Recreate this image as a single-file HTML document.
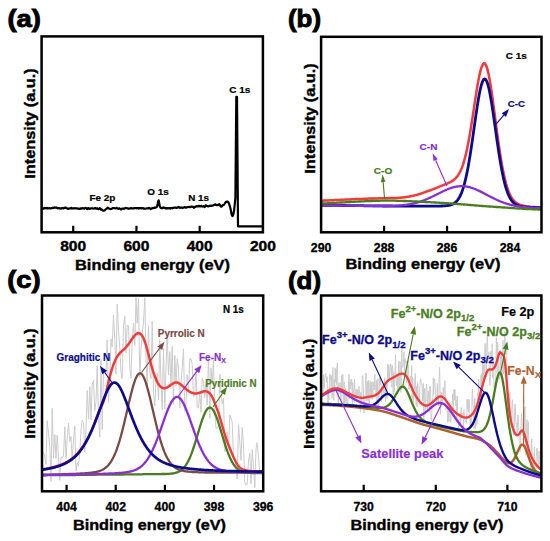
<!DOCTYPE html><html><head><meta charset="utf-8"><style>html,body{margin:0;padding:0;background:#fff;width:550px;height:541px;overflow:hidden}svg{display:block}text{font-family:"Liberation Sans",sans-serif;font-weight:bold}</style></head><body>
<svg width="550" height="541" viewBox="0 0 550 541">
<text x="7.5" y="26.5" font-size="24.5" fill="#000" text-anchor="start" textLength="33.5" lengthAdjust="spacingAndGlyphs" stroke="#000" stroke-width="0.9">(a)</text>
<text x="288" y="26.5" font-size="24.5" fill="#000" text-anchor="start" textLength="33" lengthAdjust="spacingAndGlyphs" stroke="#000" stroke-width="0.9">(b)</text>
<text x="7.2" y="288.4" font-size="24.5" fill="#000" text-anchor="start" textLength="33.5" lengthAdjust="spacingAndGlyphs" stroke="#000" stroke-width="0.9">(c)</text>
<text x="288" y="288.7" font-size="24.5" fill="#000" text-anchor="start" textLength="33" lengthAdjust="spacingAndGlyphs" stroke="#000" stroke-width="0.9">(d)</text>
<text x="34.7" y="123.5" font-size="15.2" fill="#000" text-anchor="middle" textLength="110.5" lengthAdjust="spacingAndGlyphs" transform="rotate(-90 34.7 123.5)" stroke="#000" stroke-width="0.4">Intensity (a.u.)</text>
<text x="315.2" y="118.5" font-size="15.2" fill="#000" text-anchor="middle" textLength="110.5" lengthAdjust="spacingAndGlyphs" transform="rotate(-90 315.2 118.5)" stroke="#000" stroke-width="0.4">Intensity (a.u.)</text>
<text x="34.8" y="383.5" font-size="15.2" fill="#000" text-anchor="middle" textLength="110.5" lengthAdjust="spacingAndGlyphs" transform="rotate(-90 34.8 383.5)" stroke="#000" stroke-width="0.4">Intensity (a.u.)</text>
<text x="314.0" y="393.7" font-size="15.2" fill="#000" text-anchor="middle" textLength="110.5" lengthAdjust="spacingAndGlyphs" transform="rotate(-90 314.0 393.7)" stroke="#000" stroke-width="0.4">Intensity (a.u.)</text>
<text x="152.5" y="269.8" font-size="15.1" fill="#000" text-anchor="middle" textLength="155" lengthAdjust="spacingAndGlyphs" stroke="#000" stroke-width="0.4">Binding energy (eV)</text>
<text x="423" y="269.2" font-size="15.1" fill="#000" text-anchor="middle" textLength="155" lengthAdjust="spacingAndGlyphs" stroke="#000" stroke-width="0.4">Binding energy (eV)</text>
<text x="149.5" y="529.6" font-size="15.1" fill="#000" text-anchor="middle" textLength="153" lengthAdjust="spacingAndGlyphs" stroke="#000" stroke-width="0.4">Binding energy (eV)</text>
<text x="427" y="529.9" font-size="15.1" fill="#000" text-anchor="middle" textLength="153" lengthAdjust="spacingAndGlyphs" stroke="#000" stroke-width="0.4">Binding energy (eV)</text>
<path d="M42.6,208.3 L43.1,208.7 L43.6,208.6 L44.1,208.1 L44.6,207.9 L45.1,208.0 L45.6,208.2 L46.1,208.3 L46.6,208.1 L47.1,207.9 L47.6,208.4 L48.1,208.4 L48.6,208.3 L49.1,208.2 L49.6,208.1 L50.1,208.4 L50.6,208.4 L51.1,208.2 L51.6,208.2 L52.1,208.2 L52.6,207.8 L53.1,207.7 L53.6,208.0 L54.1,207.7 L54.6,207.4 L55.1,207.6 L55.6,207.7 L56.1,207.6 L56.6,207.6 L57.1,208.1 L57.6,208.4 L58.1,208.2 L58.6,208.0 L59.1,208.3 L59.6,208.4 L60.1,208.3 L60.6,208.5 L61.1,208.6 L61.6,208.2 L62.1,208.0 L62.6,208.3 L63.1,208.5 L63.6,208.4 L64.1,207.9 L64.6,207.8 L65.1,207.7 L65.6,207.6 L66.1,208.1 L66.6,208.3 L67.1,208.3 L67.6,208.7 L68.1,208.8 L68.6,208.7 L69.1,208.6 L69.6,208.5 L70.1,208.1 L70.6,208.4 L71.1,208.3 L71.6,207.9 L72.1,208.2 L72.6,208.4 L73.1,208.5 L73.6,208.3 L74.1,208.3 L74.6,208.3 L75.1,208.2 L75.6,208.4 L76.1,208.4 L76.6,208.4 L77.1,208.4 L77.6,208.7 L78.1,208.7 L78.6,208.5 L79.1,208.7 L79.6,209.0 L80.1,208.9 L80.6,208.3 L81.1,208.5 L81.6,208.6 L82.1,208.3 L82.6,208.2 L83.1,208.5 L83.6,208.3 L84.1,208.6 L84.6,208.6 L85.1,208.0 L85.6,207.9 L86.1,208.0 L86.6,208.5 L87.1,209.1 L87.6,209.0 L88.1,208.1 L88.6,208.2 L89.1,208.8 L89.6,209.0 L90.1,208.7 L90.6,208.3 L91.1,208.4 L91.6,208.4 L92.1,208.3 L92.6,208.3 L93.1,208.5 L93.6,208.6 L94.1,208.4 L94.6,208.2 L95.1,208.0 L95.6,208.3 L96.1,208.7 L96.6,208.4 L97.1,208.2 L97.6,208.8 L98.1,209.1 L98.6,209.2 L99.1,208.7 L99.6,208.2 L100.1,208.3 L100.6,209.2 L101.1,209.7 L101.6,209.4 L102.1,209.7 L102.6,210.4 L103.1,210.7 L103.6,210.7 L104.1,210.6 L104.6,210.4 L105.1,210.0 L105.6,209.4 L106.1,209.0 L106.6,208.6 L107.1,208.3 L107.6,207.7 L108.1,207.9 L108.6,208.4 L109.1,208.5 L109.6,208.7 L110.1,208.9 L110.6,209.1 L111.1,209.0 L111.6,208.9 L112.1,208.5 L112.6,208.1 L113.1,208.1 L113.6,208.0 L114.1,208.0 L114.6,208.1 L115.1,208.4 L115.6,208.4 L116.1,208.1 L116.6,207.8 L117.1,208.2 L117.6,208.6 L118.1,208.9 L118.6,208.7 L119.1,208.3 L119.6,208.4 L120.1,209.0 L120.6,209.2 L121.1,209.4 L121.6,209.2 L122.1,208.5 L122.6,208.5 L123.1,208.7 L123.6,208.7 L124.1,208.7 L124.6,208.5 L125.1,208.3 L125.6,207.9 L126.1,208.0 L126.6,208.1 L127.1,208.3 L127.6,208.4 L128.1,208.6 L128.6,208.8 L129.1,208.6 L129.6,208.5 L130.1,208.4 L130.6,208.2 L131.1,208.2 L131.6,208.3 L132.1,208.4 L132.6,208.5 L133.1,208.4 L133.6,208.2 L134.1,208.3 L134.6,208.1 L135.1,208.0 L135.6,208.1 L136.1,208.2 L136.6,208.3 L137.1,208.1 L137.6,207.9 L138.1,208.1 L138.6,208.6 L139.1,208.4 L139.6,208.0 L140.1,208.0 L140.6,208.1 L141.1,208.5 L141.6,208.2 L142.1,208.3 L142.6,208.3 L143.1,208.0 L143.6,208.4 L144.1,208.7 L144.6,208.6 L145.1,208.6 L145.6,208.7 L146.1,208.5 L146.6,208.4 L147.1,208.4 L147.6,208.4 L148.1,208.2 L148.6,208.3 L149.1,208.1 L149.6,208.0 L150.1,208.5 L150.6,209.0 L151.1,208.7 L151.6,208.4 L152.1,208.3 L152.6,208.2 L153.1,208.1 L153.6,207.9 L154.1,207.5 L154.6,207.8 L155.1,207.8 L155.6,207.6 L156.1,207.4 L156.6,207.1 L157.1,206.5 L157.6,204.6 L158.1,201.6 L158.6,200.3 L159.1,202.5 L159.6,205.3 L160.1,206.8 L160.6,207.8 L161.1,208.1 L161.6,208.0 L162.1,208.1 L162.6,208.1 L163.1,207.6 L163.6,207.4 L164.1,207.7 L164.6,207.8 L165.1,208.0 L165.6,208.4 L166.1,208.5 L166.6,208.1 L167.1,208.2 L167.6,208.4 L168.1,208.4 L168.6,208.2 L169.1,208.0 L169.6,208.3 L170.1,208.6 L170.6,208.3 L171.1,207.9 L171.6,208.1 L172.1,208.3 L172.6,208.0 L173.1,207.9 L173.6,208.0 L174.1,207.6 L174.6,207.7 L175.1,207.6 L175.6,207.5 L176.1,207.9 L176.6,207.8 L177.1,207.5 L177.6,207.6 L178.1,207.3 L178.6,206.9 L179.1,207.2 L179.6,207.7 L180.1,207.8 L180.6,207.7 L181.1,207.7 L181.6,207.7 L182.1,207.7 L182.6,207.8 L183.1,207.7 L183.6,207.6 L184.1,207.4 L184.6,207.1 L185.1,207.2 L185.6,207.7 L186.1,207.6 L186.6,207.3 L187.1,207.3 L187.6,207.1 L188.1,207.1 L188.6,207.0 L189.1,206.9 L189.6,206.9 L190.1,207.2 L190.6,206.9 L191.1,206.5 L191.6,206.7 L192.1,206.8 L192.6,206.8 L193.1,206.7 L193.6,207.4 L194.1,207.8 L194.6,207.0 L195.1,206.8 L195.6,206.8 L196.1,206.5 L196.6,206.1 L197.1,206.1 L197.6,206.5 L198.1,206.5 L198.6,206.4 L199.1,205.8 L199.6,206.0 L200.1,206.5 L200.6,206.0 L201.1,205.8 L201.6,206.2 L202.1,206.4 L202.6,206.6 L203.1,206.3 L203.6,206.1 L204.1,206.5 L204.6,207.1 L205.1,206.5 L205.6,205.4 L206.1,205.5 L206.6,205.7 L207.1,206.0 L207.6,206.1 L208.1,206.5 L208.6,206.4 L209.1,206.1 L209.6,205.8 L210.1,205.7 L210.6,205.8 L211.1,206.0 L211.6,205.8 L212.1,205.6 L212.6,205.7 L213.1,205.5 L213.6,205.1 L214.1,204.9 L214.6,204.7 L215.1,204.4 L215.6,204.3 L216.1,205.0 L216.6,205.2 L217.1,205.1 L217.6,205.2 L218.1,205.1 L218.6,204.7 L219.1,204.1 L219.6,204.6 L220.1,205.4 L220.6,206.2 L221.1,206.7 L221.6,206.6 L222.1,205.7 L222.6,205.2 L223.1,205.2 L223.6,205.0 L224.1,204.5 L224.6,203.9 L225.1,203.1 L225.6,202.3 L226.1,202.0 L226.6,201.7 L227.1,201.6 L227.6,201.7 L228.1,202.0 L228.6,202.7 L229.1,203.8 L229.6,205.4 L230.1,207.1 L230.6,209.1 L231.1,211.6 L231.6,214.3 L232.1,215.7 L232.6,216.1 L233.1,215.1 L233.6,212.9 L234.1,210.5 L235.4,198.0 L236.3,96.8 L237.0,96.8 L238.0,226.3 L240.0,226.3 L261.9,226.3" fill="none" stroke="#000" stroke-width="2.2" stroke-linejoin="round" stroke-linecap="round" />
<line x1="73.21" y1="232.3" x2="73.21" y2="225.8" stroke="#000" stroke-width="2.2"/>
<line x1="136.44" y1="232.3" x2="136.44" y2="225.8" stroke="#000" stroke-width="2.2"/>
<line x1="199.67" y1="232.3" x2="199.67" y2="225.8" stroke="#000" stroke-width="2.2"/>
<rect x="41.6" y="36.4" width="221.30" height="195.90" fill="none" stroke="#000" stroke-width="2.5"/>
<text x="73.21428571428571" y="251.2" font-size="15.2" fill="#000" text-anchor="middle" textLength="26" lengthAdjust="spacingAndGlyphs" stroke="#000" stroke-width="0.4">800</text>
<text x="136.44285714285712" y="251.2" font-size="15.2" fill="#000" text-anchor="middle" textLength="26" lengthAdjust="spacingAndGlyphs" stroke="#000" stroke-width="0.4">600</text>
<text x="199.67142857142855" y="251.2" font-size="15.2" fill="#000" text-anchor="middle" textLength="26" lengthAdjust="spacingAndGlyphs" stroke="#000" stroke-width="0.4">400</text>
<text x="262.9" y="251.2" font-size="15.2" fill="#000" text-anchor="middle" textLength="26" lengthAdjust="spacingAndGlyphs" stroke="#000" stroke-width="0.4">200</text>
<text x="229.3" y="93" font-size="9.6" fill="#000" text-anchor="start" textLength="21" lengthAdjust="spacingAndGlyphs" stroke="#000" stroke-width="0.2">C 1s</text>
<text x="89.4" y="201.2" font-size="9.6" fill="#000" text-anchor="start" textLength="26" lengthAdjust="spacingAndGlyphs" stroke="#000" stroke-width="0.2">Fe 2p</text>
<text x="147.2" y="195.2" font-size="9.6" fill="#000" text-anchor="start" textLength="21.5" lengthAdjust="spacingAndGlyphs" stroke="#000" stroke-width="0.2">O 1s</text>
<text x="188.2" y="200.5" font-size="9.6" fill="#000" text-anchor="start" textLength="20.8" lengthAdjust="spacingAndGlyphs" stroke="#000" stroke-width="0.2">N 1s</text>
<path d="M322.1,200.7 L322.6,200.7 L323.1,200.6 L323.6,200.6 L324.1,200.6 L324.6,200.6 L325.1,200.5 L325.6,200.5 L326.1,200.5 L326.6,200.5 L327.1,200.5 L327.6,200.4 L328.1,200.4 L328.6,200.4 L329.1,200.4 L329.6,200.3 L330.1,200.3 L330.6,200.3 L331.1,200.3 L331.6,200.2 L332.1,200.2 L332.6,200.2 L333.1,200.2 L333.6,200.2 L334.1,200.1 L334.6,200.1 L335.1,200.1 L335.6,200.1 L336.1,200.0 L336.6,200.0 L337.1,200.0 L337.6,200.0 L338.1,199.9 L338.6,199.9 L339.1,199.9 L339.6,199.9 L340.1,199.9 L340.6,199.8 L341.1,199.8 L341.6,199.8 L342.1,199.8 L342.6,199.7 L343.1,199.7 L343.6,199.7 L344.1,199.7 L344.6,199.6 L345.1,199.6 L345.6,199.6 L346.1,199.6 L346.6,199.6 L347.1,199.5 L347.6,199.5 L348.1,199.5 L348.6,199.5 L349.1,199.4 L349.6,199.4 L350.1,199.4 L350.6,199.4 L351.1,199.4 L351.6,199.3 L352.1,199.3 L352.6,199.3 L353.1,199.3 L353.6,199.2 L354.1,199.2 L354.6,199.2 L355.1,199.2 L355.6,199.1 L356.1,199.1 L356.6,199.1 L357.1,199.1 L357.6,199.1 L358.1,199.0 L358.6,199.0 L359.1,199.0 L359.6,199.0 L360.1,199.0 L360.6,198.9 L361.1,198.9 L361.6,198.9 L362.1,198.9 L362.6,198.9 L363.1,198.8 L363.6,198.8 L364.1,198.8 L364.6,198.8 L365.1,198.8 L365.6,198.7 L366.1,198.7 L366.6,198.7 L367.1,198.7 L367.6,198.7 L368.1,198.6 L368.6,198.6 L369.1,198.6 L369.6,198.6 L370.1,198.6 L370.6,198.6 L371.1,198.5 L371.6,198.5 L372.1,198.5 L372.6,198.5 L373.1,198.5 L373.6,198.5 L374.1,198.5 L374.6,198.4 L375.1,198.4 L375.6,198.4 L376.1,198.4 L376.6,198.4 L377.1,198.4 L377.6,198.4 L378.1,198.4 L378.6,198.3 L379.1,198.3 L379.6,198.3 L380.1,198.3 L380.6,198.3 L381.1,198.3 L381.6,198.3 L382.1,198.3 L382.6,198.3 L383.1,198.2 L383.6,198.2 L384.1,198.2 L384.6,198.2 L385.1,198.2 L385.6,198.2 L386.1,198.2 L386.6,198.2 L387.1,198.2 L387.6,198.2 L388.1,198.1 L388.6,198.1 L389.1,198.1 L389.6,198.1 L390.1,198.1 L390.6,198.1 L391.1,198.1 L391.6,198.1 L392.1,198.1 L392.6,198.0 L393.1,198.0 L393.6,198.0 L394.1,198.0 L394.6,198.0 L395.1,198.0 L395.6,197.9 L396.1,197.9 L396.6,197.9 L397.1,197.9 L397.6,197.9 L398.1,197.8 L398.6,197.8 L399.1,197.8 L399.6,197.8 L400.1,197.7 L400.6,197.7 L401.1,197.6 L401.6,197.6 L402.1,197.5 L402.6,197.5 L403.1,197.4 L403.6,197.4 L404.1,197.3 L404.6,197.2 L405.1,197.2 L405.6,197.1 L406.1,197.0 L406.6,197.0 L407.1,196.9 L407.6,196.8 L408.1,196.7 L408.6,196.7 L409.1,196.6 L409.6,196.5 L410.1,196.4 L410.6,196.3 L411.1,196.2 L411.6,196.1 L412.1,196.0 L412.6,195.9 L413.1,195.8 L413.6,195.7 L414.1,195.6 L414.6,195.4 L415.1,195.3 L415.6,195.2 L416.1,195.1 L416.6,194.9 L417.1,194.8 L417.6,194.7 L418.1,194.5 L418.6,194.4 L419.1,194.2 L419.6,194.1 L420.1,193.9 L420.6,193.7 L421.1,193.6 L421.6,193.4 L422.1,193.2 L422.6,193.0 L423.1,192.9 L423.6,192.7 L424.1,192.5 L424.6,192.3 L425.1,192.1 L425.6,191.9 L426.1,191.7 L426.6,191.5 L427.1,191.4 L427.6,191.2 L428.1,191.0 L428.6,190.9 L429.1,190.7 L429.6,190.5 L430.1,190.4 L430.6,190.2 L431.1,190.0 L431.6,189.8 L432.1,189.6 L432.6,189.4 L433.1,189.2 L433.6,189.0 L434.1,188.9 L434.6,188.7 L435.1,188.5 L435.6,188.3 L436.1,188.1 L436.6,187.9 L437.1,187.7 L437.6,187.5 L438.1,187.2 L438.6,187.0 L439.1,186.8 L439.6,186.6 L440.1,186.4 L440.6,186.2 L441.1,186.0 L441.6,185.8 L442.1,185.6 L442.6,185.4 L443.1,185.2 L443.6,185.0 L444.1,184.8 L444.6,184.6 L445.1,184.4 L445.6,184.2 L446.1,184.0 L446.6,183.8 L447.1,183.6 L447.6,183.4 L448.1,183.1 L448.6,182.9 L449.1,182.7 L449.6,182.5 L450.1,182.2 L450.6,182.0 L451.1,181.7 L451.6,181.4 L452.1,181.2 L452.6,180.8 L453.1,180.4 L453.6,180.1 L454.1,179.7 L454.6,179.2 L455.1,178.8 L455.6,178.3 L456.1,177.7 L456.6,177.2 L457.1,176.6 L457.6,175.9 L458.1,175.2 L458.6,174.4 L459.1,173.6 L459.6,172.7 L460.1,171.7 L460.6,170.7 L461.1,169.6 L461.6,168.4 L462.1,167.1 L462.6,165.7 L463.1,164.3 L463.6,162.7 L464.1,161.0 L464.6,159.2 L465.1,157.4 L465.6,155.4 L466.1,153.3 L466.6,151.1 L467.1,148.8 L467.6,146.3 L468.1,143.8 L468.6,141.2 L469.1,138.4 L469.6,135.6 L470.1,132.7 L470.6,129.7 L471.1,126.6 L471.6,123.5 L472.1,120.3 L472.6,117.0 L473.1,113.7 L473.6,110.4 L474.1,107.1 L474.6,103.8 L475.1,100.5 L475.6,97.3 L476.1,94.1 L476.6,90.9 L477.1,87.9 L477.6,84.9 L478.1,82.1 L478.6,79.4 L479.1,76.9 L479.6,74.5 L480.1,72.3 L480.6,70.3 L481.1,68.5 L481.6,66.9 L482.1,65.5 L482.6,64.4 L483.1,63.5 L483.6,62.9 L484.1,62.6 L484.6,62.6 L485.1,62.9 L485.6,63.5 L486.1,64.4 L486.6,65.7 L487.1,67.2 L487.6,69.1 L488.1,71.2 L488.6,73.6 L489.1,76.2 L489.6,78.9 L490.1,81.9 L490.6,85.0 L491.1,88.3 L491.6,91.7 L492.1,95.1 L492.6,98.7 L493.1,102.4 L493.6,106.1 L494.1,109.8 L494.6,113.6 L495.1,117.4 L495.6,121.3 L496.1,125.1 L496.6,128.8 L497.1,132.6 L497.6,136.2 L498.1,139.9 L498.6,143.4 L499.1,146.9 L499.6,150.2 L500.1,153.5 L500.6,156.7 L501.1,159.7 L501.6,162.7 L502.1,165.5 L502.6,168.2 L503.1,170.8 L503.6,173.3 L504.1,175.6 L504.6,177.8 L505.1,179.9 L505.6,181.9 L506.1,183.8 L506.6,185.5 L507.1,187.2 L507.6,188.7 L508.1,190.2 L508.6,191.5 L509.1,192.7 L509.6,193.9 L510.1,194.9 L510.6,195.9 L511.1,196.8 L511.6,197.6 L512.1,198.4 L512.6,199.1 L513.1,199.7 L513.6,200.3 L514.1,200.9 L514.6,201.4 L515.1,201.8 L515.6,202.3 L516.1,202.7 L516.6,203.0 L517.1,203.3 L517.6,203.6 L518.1,203.9 L518.6,204.1 L519.1,204.4 L519.6,204.6 L520.1,204.8 L520.6,205.0 L521.1,205.1 L521.6,205.3 L522.1,205.4 L522.6,205.5 L523.1,205.7 L523.6,205.8 L524.1,205.9 L524.6,206.0 L525.1,206.1 L525.6,206.2 L526.1,206.3 L526.6,206.3 L527.1,206.4 L527.6,206.5 L528.1,206.5 L528.6,206.6 L529.1,206.7 L529.6,206.7 L530.1,206.8 L530.6,206.8 L531.1,206.9 L531.6,206.9 L532.1,207.0 L532.6,207.0 L533.1,207.1 L533.6,207.1 L534.1,207.1 L534.6,207.2 L535.1,207.2 L535.6,207.2 L536.1,207.3 L536.6,207.3 L537.1,207.3 L537.6,207.4 L538.1,207.4 L538.6,207.4 L539.1,207.5 L539.6,207.5 L540.1,207.5" fill="none" stroke="#808080" stroke-width="1.3" stroke-linejoin="round" stroke-linecap="round" />
<path d="M322.1,200.7 L322.6,200.7 L323.1,200.6 L323.6,200.6 L324.1,200.6 L324.6,200.6 L325.1,200.5 L325.6,200.5 L326.1,200.5 L326.6,200.5 L327.1,200.5 L327.6,200.4 L328.1,200.4 L328.6,200.4 L329.1,200.4 L329.6,200.3 L330.1,200.3 L330.6,200.3 L331.1,200.3 L331.6,200.2 L332.1,200.2 L332.6,200.2 L333.1,200.2 L333.6,200.2 L334.1,200.1 L334.6,200.1 L335.1,200.1 L335.6,200.1 L336.1,200.0 L336.6,200.0 L337.1,200.0 L337.6,200.0 L338.1,199.9 L338.6,199.9 L339.1,199.9 L339.6,199.9 L340.1,199.9 L340.6,199.8 L341.1,199.8 L341.6,199.8 L342.1,199.8 L342.6,199.7 L343.1,199.7 L343.6,199.7 L344.1,199.7 L344.6,199.6 L345.1,199.6 L345.6,199.6 L346.1,199.6 L346.6,199.6 L347.1,199.5 L347.6,199.5 L348.1,199.5 L348.6,199.5 L349.1,199.4 L349.6,199.4 L350.1,199.4 L350.6,199.4 L351.1,199.4 L351.6,199.3 L352.1,199.3 L352.6,199.3 L353.1,199.3 L353.6,199.2 L354.1,199.2 L354.6,199.2 L355.1,199.2 L355.6,199.1 L356.1,199.1 L356.6,199.1 L357.1,199.1 L357.6,199.1 L358.1,199.0 L358.6,199.0 L359.1,199.0 L359.6,199.0 L360.1,199.0 L360.6,198.9 L361.1,198.9 L361.6,198.9 L362.1,198.9 L362.6,198.9 L363.1,198.8 L363.6,198.8 L364.1,198.8 L364.6,198.8 L365.1,198.8 L365.6,198.7 L366.1,198.7 L366.6,198.7 L367.1,198.7 L367.6,198.7 L368.1,198.6 L368.6,198.6 L369.1,198.6 L369.6,198.6 L370.1,198.6 L370.6,198.6 L371.1,198.5 L371.6,198.5 L372.1,198.5 L372.6,198.5 L373.1,198.5 L373.6,198.5 L374.1,198.5 L374.6,198.4 L375.1,198.4 L375.6,198.4 L376.1,198.4 L376.6,198.4 L377.1,198.4 L377.6,198.4 L378.1,198.4 L378.6,198.3 L379.1,198.3 L379.6,198.3 L380.1,198.3 L380.6,198.3 L381.1,198.3 L381.6,198.3 L382.1,198.3 L382.6,198.3 L383.1,198.2 L383.6,198.2 L384.1,198.2 L384.6,198.2 L385.1,198.2 L385.6,198.2 L386.1,198.2 L386.6,198.2 L387.1,198.2 L387.6,198.2 L388.1,198.1 L388.6,198.1 L389.1,198.1 L389.6,198.1 L390.1,198.1 L390.6,198.1 L391.1,198.1 L391.6,198.1 L392.1,198.1 L392.6,198.0 L393.1,198.0 L393.6,198.0 L394.1,198.0 L394.6,198.0 L395.1,198.0 L395.6,197.9 L396.1,197.9 L396.6,197.9 L397.1,197.9 L397.6,197.9 L398.1,197.8 L398.6,197.8 L399.1,197.8 L399.6,197.8 L400.1,197.7 L400.6,197.7 L401.1,197.6 L401.6,197.6 L402.1,197.5 L402.6,197.5 L403.1,197.4 L403.6,197.4 L404.1,197.3 L404.6,197.2 L405.1,197.2 L405.6,197.1 L406.1,197.0 L406.6,197.0 L407.1,196.9 L407.6,196.8 L408.1,196.7 L408.6,196.7 L409.1,196.6 L409.6,196.5 L410.1,196.4 L410.6,196.3 L411.1,196.2 L411.6,196.1 L412.1,196.0 L412.6,195.9 L413.1,195.8 L413.6,195.7 L414.1,195.6 L414.6,195.4 L415.1,195.3 L415.6,195.2 L416.1,195.1 L416.6,194.9 L417.1,194.8 L417.6,194.7 L418.1,194.5 L418.6,194.4 L419.1,194.2 L419.6,194.1 L420.1,193.9 L420.6,193.7 L421.1,193.6 L421.6,193.4 L422.1,193.2 L422.6,193.0 L423.1,192.9 L423.6,192.7 L424.1,192.5 L424.6,192.3 L425.1,192.1 L425.6,191.9 L426.1,191.7 L426.6,191.5 L427.1,191.4 L427.6,191.2 L428.1,191.0 L428.6,190.9 L429.1,190.7 L429.6,190.5 L430.1,190.4 L430.6,190.2 L431.1,190.0 L431.6,189.8 L432.1,189.6 L432.6,189.4 L433.1,189.2 L433.6,189.0 L434.1,188.9 L434.6,188.7 L435.1,188.5 L435.6,188.3 L436.1,188.1 L436.6,187.9 L437.1,187.7 L437.6,187.5 L438.1,187.2 L438.6,187.0 L439.1,186.8 L439.6,186.6 L440.1,186.4 L440.6,186.2 L441.1,186.0 L441.6,185.8 L442.1,185.6 L442.6,185.4 L443.1,185.2 L443.6,185.0 L444.1,184.8 L444.6,184.6 L445.1,184.4 L445.6,184.2 L446.1,184.0 L446.6,183.8 L447.1,183.6 L447.6,183.4 L448.1,183.1 L448.6,182.9 L449.1,182.7 L449.6,182.5 L450.1,182.2 L450.6,182.0 L451.1,181.7 L451.6,181.4 L452.1,181.2 L452.6,180.8 L453.1,180.4 L453.6,180.1 L454.1,179.7 L454.6,179.2 L455.1,178.8 L455.6,178.3 L456.1,177.7 L456.6,177.2 L457.1,176.6 L457.6,175.9 L458.1,175.2 L458.6,174.4 L459.1,173.6 L459.6,172.7 L460.1,171.7 L460.6,170.7 L461.1,169.6 L461.6,168.4 L462.1,167.1 L462.6,165.7 L463.1,164.3 L463.6,162.7 L464.1,161.0 L464.6,159.2 L465.1,157.4 L465.6,155.4 L466.1,153.3 L466.6,151.1 L467.1,148.8 L467.6,146.3 L468.1,143.8 L468.6,141.2 L469.1,138.4 L469.6,135.6 L470.1,132.7 L470.6,129.7 L471.1,126.6 L471.6,123.5 L472.1,120.3 L472.6,117.0 L473.1,113.7 L473.6,110.4 L474.1,107.1 L474.6,103.8 L475.1,100.5 L475.6,97.3 L476.1,94.1 L476.6,90.9 L477.1,87.9 L477.6,84.9 L478.1,82.1 L478.6,79.4 L479.1,76.9 L479.6,74.6 L480.1,72.4 L480.6,70.4 L481.1,68.7 L481.6,67.2 L482.1,65.9 L482.6,64.9 L483.1,64.2 L483.6,63.7 L484.1,63.5 L484.6,63.6 L485.1,64.0 L485.6,64.7 L486.1,65.6 L486.6,66.8 L487.1,68.3 L487.6,70.1 L488.1,72.1 L488.6,74.3 L489.1,76.7 L489.6,79.4 L490.1,82.2 L490.6,85.3 L491.1,88.4 L491.6,91.8 L492.1,95.2 L492.6,98.8 L493.1,102.4 L493.6,106.1 L494.1,109.9 L494.6,113.6 L495.1,117.4 L495.6,121.3 L496.1,125.1 L496.6,128.8 L497.1,132.6 L497.6,136.2 L498.1,139.9 L498.6,143.4 L499.1,146.9 L499.6,150.2 L500.1,153.5 L500.6,156.7 L501.1,159.7 L501.6,162.7 L502.1,165.5 L502.6,168.2 L503.1,170.8 L503.6,173.3 L504.1,175.6 L504.6,177.8 L505.1,179.9 L505.6,181.9 L506.1,183.8 L506.6,185.5 L507.1,187.2 L507.6,188.7 L508.1,190.2 L508.6,191.5 L509.1,192.7 L509.6,193.9 L510.1,194.9 L510.6,195.9 L511.1,196.8 L511.6,197.6 L512.1,198.4 L512.6,199.1 L513.1,199.7 L513.6,200.3 L514.1,200.9 L514.6,201.4 L515.1,201.8 L515.6,202.3 L516.1,202.7 L516.6,203.0 L517.1,203.3 L517.6,203.6 L518.1,203.9 L518.6,204.1 L519.1,204.4 L519.6,204.6 L520.1,204.8 L520.6,205.0 L521.1,205.1 L521.6,205.3 L522.1,205.4 L522.6,205.5 L523.1,205.7 L523.6,205.8 L524.1,205.9 L524.6,206.0 L525.1,206.1 L525.6,206.2 L526.1,206.3 L526.6,206.3 L527.1,206.4 L527.6,206.5 L528.1,206.5 L528.6,206.6 L529.1,206.7 L529.6,206.7 L530.1,206.8 L530.6,206.8 L531.1,206.9 L531.6,206.9 L532.1,207.0 L532.6,207.0 L533.1,207.1 L533.6,207.1 L534.1,207.1 L534.6,207.2 L535.1,207.2 L535.6,207.2 L536.1,207.3 L536.6,207.3 L537.1,207.3 L537.6,207.4 L538.1,207.4 L538.6,207.4 L539.1,207.5 L539.6,207.5 L540.1,207.5" fill="none" stroke="#f23c3c" stroke-width="2.5" stroke-linejoin="round" stroke-linecap="round" />
<path d="M322.1,205.3 L322.6,205.3 L323.1,205.3 L323.6,205.3 L324.1,205.3 L324.6,205.3 L325.1,205.3 L325.6,205.3 L326.1,205.3 L326.6,205.3 L327.1,205.3 L327.6,205.3 L328.1,205.3 L328.6,205.3 L329.1,205.3 L329.6,205.3 L330.1,205.3 L330.6,205.4 L331.1,205.4 L331.6,205.4 L332.1,205.4 L332.6,205.4 L333.1,205.4 L333.6,205.4 L334.1,205.4 L334.6,205.4 L335.1,205.4 L335.6,205.4 L336.1,205.4 L336.6,205.4 L337.1,205.4 L337.6,205.4 L338.1,205.4 L338.6,205.5 L339.1,205.5 L339.6,205.5 L340.1,205.5 L340.6,205.5 L341.1,205.5 L341.6,205.5 L342.1,205.5 L342.6,205.5 L343.1,205.5 L343.6,205.5 L344.1,205.5 L344.6,205.5 L345.1,205.5 L345.6,205.5 L346.1,205.5 L346.6,205.5 L347.1,205.6 L347.6,205.6 L348.1,205.6 L348.6,205.6 L349.1,205.6 L349.6,205.6 L350.1,205.6 L350.6,205.6 L351.1,205.6 L351.6,205.6 L352.1,205.6 L352.6,205.6 L353.1,205.6 L353.6,205.6 L354.1,205.6 L354.6,205.6 L355.1,205.6 L355.6,205.7 L356.1,205.7 L356.6,205.7 L357.1,205.7 L357.6,205.7 L358.1,205.7 L358.6,205.7 L359.1,205.7 L359.6,205.7 L360.1,205.7 L360.6,205.7 L361.1,205.7 L361.6,205.7 L362.1,205.7 L362.6,205.7 L363.1,205.7 L363.6,205.7 L364.1,205.8 L364.6,205.8 L365.1,205.8 L365.6,205.8 L366.1,205.8 L366.6,205.8 L367.1,205.8 L367.6,205.8 L368.1,205.8 L368.6,205.8 L369.1,205.8 L369.6,205.8 L370.1,205.8 L370.6,205.8 L371.1,205.8 L371.6,205.8 L372.1,205.8 L372.6,205.8 L373.1,205.9 L373.6,205.9 L374.1,205.9 L374.6,205.9 L375.1,205.9 L375.6,205.9 L376.1,205.9 L376.6,205.9 L377.1,205.9 L377.6,205.9 L378.1,205.9 L378.6,205.9 L379.1,205.9 L379.6,205.9 L380.1,205.9 L380.6,205.9 L381.1,205.9 L381.6,205.9 L382.1,205.9 L382.6,206.0 L383.1,206.0 L383.6,206.0 L384.1,206.0 L384.6,206.0 L385.1,206.0 L385.6,206.0 L386.1,206.0 L386.6,206.0 L387.1,206.0 L387.6,206.0 L388.1,206.0 L388.6,206.0 L389.1,206.0 L389.6,206.0 L390.1,206.0 L390.6,206.0 L391.1,206.0 L391.6,206.0 L392.1,206.0 L392.6,206.0 L393.1,206.1 L393.6,206.1 L394.1,206.1 L394.6,206.1 L395.1,206.1 L395.6,206.1 L396.1,206.1 L396.6,206.1 L397.1,206.1 L397.6,206.1 L398.1,206.1 L398.6,206.1 L399.1,206.1 L399.6,206.1 L400.1,206.1 L400.6,206.1 L401.1,206.1 L401.6,206.1 L402.1,206.1 L402.6,206.1 L403.1,206.1 L403.6,206.1 L404.1,206.1 L404.6,206.1 L405.1,206.1 L405.6,206.2 L406.1,206.2 L406.6,206.2 L407.1,206.2 L407.6,206.2 L408.1,206.2 L408.6,206.2 L409.1,206.2 L409.6,206.2 L410.1,206.2 L410.6,206.2 L411.1,206.2 L411.6,206.2 L412.1,206.2 L412.6,206.2 L413.1,206.2 L413.6,206.2 L414.1,206.2 L414.6,206.2 L415.1,206.2 L415.6,206.2 L416.1,206.2 L416.6,206.2 L417.1,206.2 L417.6,206.2 L418.1,206.2 L418.6,206.2 L419.1,206.2 L419.6,206.2 L420.1,206.2 L420.6,206.2 L421.1,206.2 L421.6,206.2 L422.1,206.2 L422.6,206.2 L423.1,206.2 L423.6,206.2 L424.1,206.2 L424.6,206.2 L425.1,206.2 L425.6,206.2 L426.1,206.2 L426.6,206.2 L427.1,206.2 L427.6,206.2 L428.1,206.2 L428.6,206.2 L429.1,206.2 L429.6,206.2 L430.1,206.2 L430.6,206.2 L431.1,206.2 L431.6,206.2 L432.1,206.2 L432.6,206.2 L433.1,206.2 L433.6,206.2 L434.1,206.2 L434.6,206.2 L435.1,206.2 L435.6,206.2 L436.1,206.1 L436.6,206.1 L437.1,206.1 L437.6,206.1 L438.1,206.1 L438.6,206.1 L439.1,206.1 L439.6,206.1 L440.1,206.1 L440.6,206.0 L441.1,206.0 L441.6,206.0 L442.1,206.0 L442.6,206.0 L443.1,205.9 L443.6,205.9 L444.1,205.9 L444.6,205.9 L445.1,205.8 L445.6,205.8 L446.1,205.7 L446.6,205.7 L447.1,205.6 L447.6,205.5 L448.1,205.5 L448.6,205.4 L449.1,205.3 L449.6,205.2 L450.1,205.1 L450.6,204.9 L451.1,204.8 L451.6,204.6 L452.1,204.4 L452.6,204.2 L453.1,203.9 L453.6,203.7 L454.1,203.3 L454.6,203.0 L455.1,202.6 L455.6,202.2 L456.1,201.8 L456.6,201.2 L457.1,200.7 L457.6,200.1 L458.1,199.4 L458.6,198.7 L459.1,197.8 L459.6,197.0 L460.1,196.0 L460.6,195.0 L461.1,193.8 L461.6,192.6 L462.1,191.3 L462.6,189.9 L463.1,188.3 L463.6,186.7 L464.1,185.0 L464.6,183.1 L465.1,181.2 L465.6,179.1 L466.1,176.9 L466.6,174.6 L467.1,172.1 L467.6,169.6 L468.1,166.9 L468.6,164.1 L469.1,161.2 L469.6,158.3 L470.1,155.2 L470.6,152.0 L471.1,148.7 L471.6,145.4 L472.1,142.0 L472.6,138.6 L473.1,135.1 L473.6,131.5 L474.1,128.0 L474.6,124.5 L475.1,121.0 L475.6,117.5 L476.1,114.0 L476.6,110.7 L477.1,107.4 L477.6,104.2 L478.1,101.1 L478.6,98.1 L479.1,95.3 L479.6,92.7 L480.1,90.3 L480.6,88.0 L481.1,86.0 L481.6,84.2 L482.1,82.7 L482.6,81.4 L483.1,80.4 L483.6,79.6 L484.1,79.1 L484.6,79.0 L485.1,79.0 L485.6,79.4 L486.1,80.1 L486.6,81.0 L487.1,82.2 L487.6,83.7 L488.1,85.4 L488.6,87.3 L489.1,89.5 L489.6,91.8 L490.1,94.4 L490.6,97.2 L491.1,100.1 L491.6,103.1 L492.1,106.3 L492.6,109.5 L493.1,112.9 L493.6,116.3 L494.1,119.8 L494.6,123.3 L495.1,126.9 L495.6,130.4 L496.1,134.0 L496.6,137.5 L497.1,141.0 L497.6,144.4 L498.1,147.8 L498.6,151.1 L499.1,154.3 L499.6,157.4 L500.1,160.5 L500.6,163.4 L501.1,166.2 L501.6,169.0 L502.1,171.6 L502.6,174.1 L503.1,176.5 L503.6,178.7 L504.1,180.9 L504.6,182.9 L505.1,184.8 L505.6,186.6 L506.1,188.3 L506.6,189.8 L507.1,191.3 L507.6,192.7 L508.1,194.0 L508.6,195.1 L509.1,196.2 L509.6,197.2 L510.1,198.2 L510.6,199.0 L511.1,199.8 L511.6,200.5 L512.1,201.2 L512.6,201.8 L513.1,202.3 L513.6,202.8 L514.1,203.2 L514.6,203.7 L515.1,204.0 L515.6,204.3 L516.1,204.6 L516.6,204.9 L517.1,205.2 L517.6,205.4 L518.1,205.6 L518.6,205.7 L519.1,205.9 L519.6,206.0 L520.1,206.2 L520.6,206.3 L521.1,206.4 L521.6,206.5 L522.1,206.6 L522.6,206.6 L523.1,206.7 L523.6,206.8 L524.1,206.8 L524.6,206.9 L525.1,206.9 L525.6,207.0 L526.1,207.0 L526.6,207.1 L527.1,207.1 L527.6,207.1 L528.1,207.2 L528.6,207.2 L529.1,207.2 L529.6,207.3 L530.1,207.3 L530.6,207.3 L531.1,207.3 L531.6,207.4 L532.1,207.4 L532.6,207.4 L533.1,207.4 L533.6,207.4 L534.1,207.5 L534.6,207.5 L535.1,207.5 L535.6,207.5 L536.1,207.5 L536.6,207.5 L537.1,207.6 L537.6,207.6 L538.1,207.6 L538.6,207.6 L539.1,207.6 L539.6,207.6 L540.1,207.7" fill="none" stroke="#0b0b8c" stroke-width="2.8" stroke-linejoin="round" stroke-linecap="round" />
<path d="M322.1,205.3 L322.6,205.3 L323.1,205.3 L323.6,205.3 L324.1,205.3 L324.6,205.3 L325.1,205.4 L325.6,205.4 L326.1,205.4 L326.6,205.4 L327.1,205.4 L327.6,205.4 L328.1,205.4 L328.6,205.4 L329.1,205.4 L329.6,205.4 L330.1,205.4 L330.6,205.4 L331.1,205.4 L331.6,205.4 L332.1,205.4 L332.6,205.5 L333.1,205.5 L333.6,205.5 L334.1,205.5 L334.6,205.5 L335.1,205.5 L335.6,205.5 L336.1,205.5 L336.6,205.5 L337.1,205.5 L337.6,205.5 L338.1,205.5 L338.6,205.5 L339.1,205.5 L339.6,205.5 L340.1,205.5 L340.6,205.6 L341.1,205.6 L341.6,205.6 L342.1,205.6 L342.6,205.6 L343.1,205.6 L343.6,205.6 L344.1,205.6 L344.6,205.6 L345.1,205.6 L345.6,205.6 L346.1,205.6 L346.6,205.6 L347.1,205.6 L347.6,205.6 L348.1,205.7 L348.6,205.7 L349.1,205.7 L349.6,205.7 L350.1,205.7 L350.6,205.7 L351.1,205.7 L351.6,205.7 L352.1,205.7 L352.6,205.7 L353.1,205.7 L353.6,205.7 L354.1,205.7 L354.6,205.7 L355.1,205.7 L355.6,205.8 L356.1,205.8 L356.6,205.8 L357.1,205.8 L357.6,205.8 L358.1,205.8 L358.6,205.8 L359.1,205.8 L359.6,205.8 L360.1,205.8 L360.6,205.8 L361.1,205.8 L361.6,205.8 L362.1,205.8 L362.6,205.8 L363.1,205.8 L363.6,205.9 L364.1,205.9 L364.6,205.9 L365.1,205.9 L365.6,205.9 L366.1,205.9 L366.6,205.9 L367.1,205.9 L367.6,205.9 L368.1,205.9 L368.6,205.9 L369.1,205.9 L369.6,205.9 L370.1,205.9 L370.6,205.9 L371.1,205.9 L371.6,205.9 L372.1,205.9 L372.6,205.9 L373.1,206.0 L373.6,206.0 L374.1,206.0 L374.6,206.0 L375.1,206.0 L375.6,206.0 L376.1,206.0 L376.6,206.0 L377.1,206.0 L377.6,206.0 L378.1,206.0 L378.6,206.0 L379.1,206.0 L379.6,206.0 L380.1,206.0 L380.6,206.0 L381.1,206.0 L381.6,206.0 L382.1,206.0 L382.6,206.0 L383.1,206.0 L383.6,206.0 L384.1,206.0 L384.6,206.0 L385.1,206.0 L385.6,206.0 L386.1,206.0 L386.6,206.0 L387.1,206.0 L387.6,206.0 L388.1,205.9 L388.6,205.9 L389.1,205.9 L389.6,205.9 L390.1,205.9 L390.6,205.9 L391.1,205.9 L391.6,205.9 L392.1,205.9 L392.6,205.8 L393.1,205.8 L393.6,205.8 L394.1,205.8 L394.6,205.8 L395.1,205.7 L395.6,205.7 L396.1,205.7 L396.6,205.7 L397.1,205.6 L397.6,205.6 L398.1,205.6 L398.6,205.6 L399.1,205.5 L399.6,205.5 L400.1,205.4 L400.6,205.4 L401.1,205.4 L401.6,205.3 L402.1,205.3 L402.6,205.2 L403.1,205.2 L403.6,205.1 L404.1,205.1 L404.6,205.0 L405.1,204.9 L405.6,204.9 L406.1,204.8 L406.6,204.8 L407.1,204.7 L407.6,204.6 L408.1,204.5 L408.6,204.4 L409.1,204.4 L409.6,204.3 L410.1,204.2 L410.6,204.1 L411.1,204.0 L411.6,203.9 L412.1,203.8 L412.6,203.7 L413.1,203.6 L413.6,203.5 L414.1,203.4 L414.6,203.2 L415.1,203.1 L415.6,203.0 L416.1,202.9 L416.6,202.7 L417.1,202.6 L417.6,202.4 L418.1,202.3 L418.6,202.1 L419.1,202.0 L419.6,201.8 L420.1,201.7 L420.6,201.5 L421.1,201.3 L421.6,201.2 L422.1,201.0 L422.6,200.8 L423.1,200.6 L423.6,200.4 L424.1,200.2 L424.6,200.0 L425.1,199.8 L425.6,199.6 L426.1,199.4 L426.6,199.2 L427.1,199.0 L427.6,198.8 L428.1,198.6 L428.6,198.3 L429.1,198.1 L429.6,197.9 L430.1,197.7 L430.6,197.4 L431.1,197.2 L431.6,196.9 L432.1,196.7 L432.6,196.5 L433.1,196.2 L433.6,196.0 L434.1,195.7 L434.6,195.5 L435.1,195.2 L435.6,195.0 L436.1,194.7 L436.6,194.5 L437.1,194.2 L437.6,194.0 L438.1,193.7 L438.6,193.5 L439.1,193.2 L439.6,193.0 L440.1,192.7 L440.6,192.5 L441.1,192.2 L441.6,192.0 L442.1,191.7 L442.6,191.5 L443.1,191.3 L443.6,191.0 L444.1,190.8 L444.6,190.6 L445.1,190.3 L445.6,190.1 L446.1,189.9 L446.6,189.7 L447.1,189.5 L447.6,189.3 L448.1,189.1 L448.6,188.9 L449.1,188.7 L449.6,188.5 L450.1,188.3 L450.6,188.1 L451.1,188.0 L451.6,187.8 L452.1,187.7 L452.6,187.5 L453.1,187.4 L453.6,187.2 L454.1,187.1 L454.6,187.0 L455.1,186.9 L455.6,186.8 L456.1,186.7 L456.6,186.6 L457.1,186.5 L457.6,186.4 L458.1,186.4 L458.6,186.3 L459.1,186.3 L459.6,186.2 L460.1,186.2 L460.6,186.2 L461.1,186.2 L461.6,186.2 L462.1,186.2 L462.6,186.2 L463.1,186.2 L463.6,186.2 L464.1,186.3 L464.6,186.3 L465.1,186.4 L465.6,186.4 L466.1,186.5 L466.6,186.6 L467.1,186.7 L467.6,186.8 L468.1,186.9 L468.6,187.0 L469.1,187.1 L469.6,187.2 L470.1,187.4 L470.6,187.5 L471.1,187.7 L471.6,187.8 L472.1,188.0 L472.6,188.2 L473.1,188.3 L473.6,188.5 L474.1,188.7 L474.6,188.9 L475.1,189.1 L475.6,189.3 L476.1,189.5 L476.6,189.7 L477.1,190.0 L477.6,190.2 L478.1,190.4 L478.6,190.6 L479.1,190.9 L479.6,191.1 L480.1,191.4 L480.6,191.6 L481.1,191.9 L481.6,192.1 L482.1,192.4 L482.6,192.6 L483.1,192.9 L483.6,193.1 L484.1,193.4 L484.6,193.7 L485.1,193.9 L485.6,194.2 L486.1,194.5 L486.6,194.7 L487.1,195.0 L487.6,195.3 L488.1,195.5 L488.6,195.8 L489.1,196.0 L489.6,196.3 L490.1,196.6 L490.6,196.8 L491.1,197.1 L491.6,197.3 L492.1,197.6 L492.6,197.9 L493.1,198.1 L493.6,198.3 L494.1,198.6 L494.6,198.8 L495.1,199.1 L495.6,199.3 L496.1,199.5 L496.6,199.8 L497.1,200.0 L497.6,200.2 L498.1,200.5 L498.6,200.7 L499.1,200.9 L499.6,201.1 L500.1,201.3 L500.6,201.5 L501.1,201.7 L501.6,201.9 L502.1,202.1 L502.6,202.3 L503.1,202.5 L503.6,202.7 L504.1,202.8 L504.6,203.0 L505.1,203.2 L505.6,203.3 L506.1,203.5 L506.6,203.7 L507.1,203.8 L507.6,204.0 L508.1,204.1 L508.6,204.3 L509.1,204.4 L509.6,204.5 L510.1,204.7 L510.6,204.8 L511.1,204.9 L511.6,205.0 L512.1,205.2 L512.6,205.3 L513.1,205.4 L513.6,205.5 L514.1,205.6 L514.6,205.7 L515.1,205.8 L515.6,205.9 L516.1,206.0 L516.6,206.1 L517.1,206.2 L517.6,206.2 L518.1,206.3 L518.6,206.4 L519.1,206.5 L519.6,206.5 L520.1,206.6 L520.6,206.7 L521.1,206.8 L521.6,206.8 L522.1,206.9 L522.6,206.9 L523.1,207.0 L523.6,207.0 L524.1,207.1 L524.6,207.1 L525.1,207.2 L525.6,207.2 L526.1,207.3 L526.6,207.3 L527.1,207.4 L527.6,207.4 L528.1,207.5 L528.6,207.5 L529.1,207.5 L529.6,207.6 L530.1,207.6 L530.6,207.6 L531.1,207.7 L531.6,207.7 L532.1,207.7 L532.6,207.7 L533.1,207.8 L533.6,207.8 L534.1,207.8 L534.6,207.8 L535.1,207.9 L535.6,207.9 L536.1,207.9 L536.6,207.9 L537.1,207.9 L537.6,208.0 L538.1,208.0 L538.6,208.0 L539.1,208.0 L539.6,208.0 L540.1,208.0" fill="none" stroke="#8a2fd6" stroke-width="2.3" stroke-linejoin="round" stroke-linecap="round" />
<path d="M322.1,203.5 L322.6,203.5 L323.1,203.5 L323.6,203.5 L324.1,203.4 L324.6,203.4 L325.1,203.4 L325.6,203.3 L326.1,203.3 L326.6,203.3 L327.1,203.3 L327.6,203.2 L328.1,203.2 L328.6,203.2 L329.1,203.1 L329.6,203.1 L330.1,203.1 L330.6,203.1 L331.1,203.0 L331.6,203.0 L332.1,203.0 L332.6,203.0 L333.1,202.9 L333.6,202.9 L334.1,202.9 L334.6,202.8 L335.1,202.8 L335.6,202.8 L336.1,202.8 L336.6,202.7 L337.1,202.7 L337.6,202.7 L338.1,202.7 L338.6,202.6 L339.1,202.6 L339.6,202.6 L340.1,202.5 L340.6,202.5 L341.1,202.5 L341.6,202.5 L342.1,202.4 L342.6,202.4 L343.1,202.4 L343.6,202.3 L344.1,202.3 L344.6,202.3 L345.1,202.3 L345.6,202.2 L346.1,202.2 L346.6,202.2 L347.1,202.2 L347.6,202.1 L348.1,202.1 L348.6,202.1 L349.1,202.0 L349.6,202.0 L350.1,202.0 L350.6,202.0 L351.1,201.9 L351.6,201.9 L352.1,201.9 L352.6,201.9 L353.1,201.8 L353.6,201.8 L354.1,201.8 L354.6,201.8 L355.1,201.7 L355.6,201.7 L356.1,201.7 L356.6,201.6 L357.1,201.6 L357.6,201.6 L358.1,201.6 L358.6,201.5 L359.1,201.5 L359.6,201.5 L360.1,201.5 L360.6,201.4 L361.1,201.4 L361.6,201.4 L362.1,201.4 L362.6,201.3 L363.1,201.3 L363.6,201.3 L364.1,201.3 L364.6,201.3 L365.1,201.2 L365.6,201.2 L366.1,201.2 L366.6,201.2 L367.1,201.1 L367.6,201.1 L368.1,201.1 L368.6,201.1 L369.1,201.1 L369.6,201.0 L370.1,201.0 L370.6,201.0 L371.1,201.0 L371.6,201.0 L372.1,201.0 L372.6,200.9 L373.1,200.9 L373.6,200.9 L374.1,200.9 L374.6,200.9 L375.1,200.9 L375.6,200.8 L376.1,200.8 L376.6,200.8 L377.1,200.8 L377.6,200.8 L378.1,200.8 L378.6,200.8 L379.1,200.8 L379.6,200.8 L380.1,200.7 L380.6,200.7 L381.1,200.7 L381.6,200.7 L382.1,200.7 L382.6,200.7 L383.1,200.7 L383.6,200.7 L384.1,200.7 L384.6,200.7 L385.1,200.7 L385.6,200.7 L386.1,200.7 L386.6,200.7 L387.1,200.7 L387.6,200.7 L388.1,200.7 L388.6,200.7 L389.1,200.7 L389.6,200.7 L390.1,200.7 L390.6,200.7 L391.1,200.7 L391.6,200.7 L392.1,200.7 L392.6,200.7 L393.1,200.7 L393.6,200.7 L394.1,200.7 L394.6,200.7 L395.1,200.7 L395.6,200.7 L396.1,200.8 L396.6,200.8 L397.1,200.8 L397.6,200.8 L398.1,200.8 L398.6,200.8 L399.1,200.8 L399.6,200.8 L400.1,200.8 L400.6,200.9 L401.1,200.9 L401.6,200.9 L402.1,200.9 L402.6,200.9 L403.1,200.9 L403.6,201.0 L404.1,201.0 L404.6,201.0 L405.1,201.0 L405.6,201.0 L406.1,201.0 L406.6,201.1 L407.1,201.1 L407.6,201.1 L408.1,201.1 L408.6,201.1 L409.1,201.2 L409.6,201.2 L410.1,201.2 L410.6,201.2 L411.1,201.2 L411.6,201.3 L412.1,201.3 L412.6,201.3 L413.1,201.3 L413.6,201.4 L414.1,201.4 L414.6,201.4 L415.1,201.4 L415.6,201.5 L416.1,201.5 L416.6,201.5 L417.1,201.5 L417.6,201.6 L418.1,201.6 L418.6,201.6 L419.1,201.6 L419.6,201.7 L420.1,201.7 L420.6,201.7 L421.1,201.7 L421.6,201.8 L422.1,201.8 L422.6,201.8 L423.1,201.8 L423.6,201.9 L424.1,201.9 L424.6,201.9 L425.1,202.0 L425.6,202.0 L426.1,202.0 L426.6,202.0 L427.1,202.1 L427.6,202.1 L428.1,202.1 L428.6,202.1 L429.1,202.2 L429.6,202.2 L430.1,202.2 L430.6,202.2 L431.1,202.3 L431.6,202.3 L432.1,202.3 L432.6,202.4 L433.1,202.4 L433.6,202.4 L434.1,202.4 L434.6,202.5 L435.1,202.5 L435.6,202.5 L436.1,202.6 L436.6,202.6 L437.1,202.6 L437.6,202.6 L438.1,202.7 L438.6,202.7 L439.1,202.7 L439.6,202.8 L440.1,202.8 L440.6,202.8 L441.1,202.8 L441.6,202.9 L442.1,202.9 L442.6,202.9 L443.1,203.0 L443.6,203.0 L444.1,203.0 L444.6,203.1 L445.1,203.1 L445.6,203.1 L446.1,203.1 L446.6,203.2 L447.1,203.2 L447.6,203.2 L448.1,203.3 L448.6,203.3 L449.1,203.3 L449.6,203.4 L450.1,203.4 L450.6,203.5 L451.1,203.5 L451.6,203.5 L452.1,203.6 L452.6,203.6 L453.1,203.6 L453.6,203.7 L454.1,203.7 L454.6,203.7 L455.1,203.8 L455.6,203.8 L456.1,203.9 L456.6,203.9 L457.1,203.9 L457.6,204.0 L458.1,204.0 L458.6,204.0 L459.1,204.1 L459.6,204.1 L460.1,204.2 L460.6,204.2 L461.1,204.3 L461.6,204.3 L462.1,204.3 L462.6,204.4 L463.1,204.4 L463.6,204.5 L464.1,204.5 L464.6,204.5 L465.1,204.6 L465.6,204.6 L466.1,204.7 L466.6,204.7 L467.1,204.7 L467.6,204.8 L468.1,204.8 L468.6,204.9 L469.1,204.9 L469.6,205.0 L470.1,205.0 L470.6,205.0 L471.1,205.1 L471.6,205.1 L472.1,205.2 L472.6,205.2 L473.1,205.2 L473.6,205.3 L474.1,205.3 L474.6,205.4 L475.1,205.4 L475.6,205.5 L476.1,205.5 L476.6,205.5 L477.1,205.6 L477.6,205.6 L478.1,205.7 L478.6,205.7 L479.1,205.7 L479.6,205.8 L480.1,205.8 L480.6,205.8 L481.1,205.9 L481.6,205.9 L482.1,206.0 L482.6,206.0 L483.1,206.0 L483.6,206.1 L484.1,206.1 L484.6,206.1 L485.1,206.2 L485.6,206.2 L486.1,206.3 L486.6,206.3 L487.1,206.3 L487.6,206.4 L488.1,206.4 L488.6,206.4 L489.1,206.5 L489.6,206.5 L490.1,206.5 L490.6,206.6 L491.1,206.6 L491.6,206.6 L492.1,206.7 L492.6,206.7 L493.1,206.7 L493.6,206.8 L494.1,206.8 L494.6,206.8 L495.1,206.9 L495.6,206.9 L496.1,207.0 L496.6,207.0 L497.1,207.0 L497.6,207.1 L498.1,207.1 L498.6,207.1 L499.1,207.2 L499.6,207.2 L500.1,207.2 L500.6,207.3 L501.1,207.3 L501.6,207.3 L502.1,207.4 L502.6,207.4 L503.1,207.4 L503.6,207.5 L504.1,207.5 L504.6,207.5 L505.1,207.6 L505.6,207.6 L506.1,207.6 L506.6,207.7 L507.1,207.7 L507.6,207.7 L508.1,207.8 L508.6,207.8 L509.1,207.9 L509.6,207.9 L510.1,207.9 L510.6,208.0 L511.1,208.0 L511.6,208.0 L512.1,208.1 L512.6,208.1 L513.1,208.1 L513.6,208.2 L514.1,208.2 L514.6,208.2 L515.1,208.3 L515.6,208.3 L516.1,208.3 L516.6,208.4 L517.1,208.4 L517.6,208.4 L518.1,208.5 L518.6,208.5 L519.1,208.5 L519.6,208.6 L520.1,208.6 L520.6,208.6 L521.1,208.7 L521.6,208.7 L522.1,208.7 L522.6,208.8 L523.1,208.8 L523.6,208.8 L524.1,208.9 L524.6,208.9 L525.1,208.9 L525.6,208.9 L526.1,209.0 L526.6,209.0 L527.1,209.0 L527.6,209.0 L528.1,209.1 L528.6,209.1 L529.1,209.1 L529.6,209.1 L530.1,209.1 L530.6,209.2 L531.1,209.2 L531.6,209.2 L532.1,209.2 L532.6,209.3 L533.1,209.3 L533.6,209.3 L534.1,209.3 L534.6,209.3 L535.1,209.4 L535.6,209.4 L536.1,209.4 L536.6,209.4 L537.1,209.4 L537.6,209.4 L538.1,209.5 L538.6,209.5 L539.1,209.5 L539.6,209.5 L540.1,209.5" fill="none" stroke="#4a7d1f" stroke-width="2.3" stroke-linejoin="round" stroke-linecap="round" />
<line x1="384.07" y1="232.3" x2="384.07" y2="225.8" stroke="#000" stroke-width="2.2"/>
<line x1="447.04" y1="232.3" x2="447.04" y2="225.8" stroke="#000" stroke-width="2.2"/>
<line x1="510.01" y1="232.3" x2="510.01" y2="225.8" stroke="#000" stroke-width="2.2"/>
<rect x="321.1" y="36.8" width="220.40" height="195.50" fill="none" stroke="#000" stroke-width="2.5"/>
<text x="321.1" y="251.7" font-size="11.9" fill="#000" text-anchor="middle" textLength="20.5" lengthAdjust="spacingAndGlyphs" stroke="#000" stroke-width="0.3">290</text>
<text x="384.07142857142856" y="251.7" font-size="11.9" fill="#000" text-anchor="middle" textLength="20.5" lengthAdjust="spacingAndGlyphs" stroke="#000" stroke-width="0.3">288</text>
<text x="447.04285714285714" y="251.7" font-size="11.9" fill="#000" text-anchor="middle" textLength="20.5" lengthAdjust="spacingAndGlyphs" stroke="#000" stroke-width="0.3">286</text>
<text x="510.01428571428573" y="251.7" font-size="11.9" fill="#000" text-anchor="middle" textLength="20.5" lengthAdjust="spacingAndGlyphs" stroke="#000" stroke-width="0.3">284</text>
<text x="505.7" y="58.7" font-size="9.6" fill="#000" text-anchor="start" textLength="21" lengthAdjust="spacingAndGlyphs" stroke="#000" stroke-width="0.2">C 1s</text>
<text x="507.7" y="107.1" font-size="9.6" fill="#0b0b8c" text-anchor="start" textLength="17.2" lengthAdjust="spacingAndGlyphs" stroke="#0b0b8c" stroke-width="0.2">C-C</text>
<line x1="495" y1="125.4" x2="503.81" y2="115.08" stroke="#0b0b8c" stroke-width="1.1"/>
<polygon points="509.00,109.00 505.94,116.90 501.68,113.27" fill="#0b0b8c"/>
<text x="419.6" y="149.8" font-size="9.6" fill="#8a2fd6" text-anchor="start" textLength="17.8" lengthAdjust="spacingAndGlyphs" stroke="#8a2fd6" stroke-width="0.2">C-N</text>
<line x1="447" y1="186" x2="435.62" y2="160.16" stroke="#8a2fd6" stroke-width="1.1"/>
<polygon points="432.60,153.30 437.73,159.24 433.52,161.09" fill="#8a2fd6"/>
<text x="373.8" y="173.8" font-size="9.6" fill="#4a7d1f" text-anchor="start" textLength="18.4" lengthAdjust="spacingAndGlyphs" stroke="#4a7d1f" stroke-width="0.2">C-O</text>
<line x1="384.6" y1="199" x2="383.14" y2="181.97" stroke="#4a7d1f" stroke-width="1.1"/>
<polygon points="382.50,174.50 385.43,181.78 380.85,182.17" fill="#4a7d1f"/>
<path d="M43.5,452.5 L44.8,456.1 L46.0,464.1 L47.2,420.7 L48.5,433.3 L49.8,446.7 L51.0,481.3 L52.2,408.3 L53.5,458.3 L54.8,434.6 L56.0,458.5 L57.2,435.2 L58.5,457.3 L59.8,480.3 L61.0,456.8 L62.2,457.9 L63.5,455.5 L64.8,426.8 L66.0,458.6 L67.2,438.7 L68.5,423.2 L69.8,441.5 L71.0,436.5 L72.2,460.6 L73.5,439.6 L74.8,426.3 L76.0,471.1 L77.2,462.7 L78.5,466.2 L79.8,451.2 L81.0,430.4 L82.2,420.2 L83.5,422.6 L84.8,451.8 L86.0,428.9 L87.2,390.6 L88.5,419.2 L89.8,386.7 L91.0,419.9 L92.2,384.5 L93.5,380.5 L94.8,410.6 L96.0,401.9 L97.2,365.5 L98.5,418.6 L99.8,437.2 L101.0,360.1 L102.2,429.5 L103.5,370.1 L104.8,370.2 L106.0,373.8 L107.2,340.0 L108.5,402.4 L109.8,379.6 L111.0,339.0 L112.2,347.0 L113.5,315.1 L114.8,339.4 L116.0,374.1 L117.2,304.1 L118.5,329.9 L119.8,348.2 L121.0,373.3 L122.2,378.7 L123.5,325.9 L124.8,316.1 L126.0,352.7 L127.2,325.1 L128.5,325.7 L129.8,368.0 L131.0,378.0 L132.2,340.7 L133.5,323.1 L134.8,345.4 L136.0,297.5 L137.2,323.3 L138.5,298.0 L139.8,377.5 L141.0,350.7 L142.2,333.3 L143.5,322.9 L144.8,297.5 L146.0,359.8 L147.2,384.6 L148.5,325.6 L149.8,373.3 L151.0,378.7 L152.2,321.3 L153.5,392.8 L154.8,405.9 L156.0,380.0 L157.2,373.2 L158.5,399.7 L159.8,339.5 L161.0,382.6 L162.2,410.1 L163.5,348.3 L164.8,408.8 L166.0,367.6 L167.2,335.0 L168.5,374.8 L169.8,351.6 L171.0,386.6 L172.2,346.3 L173.5,404.5 L174.8,355.4 L176.0,385.8 L177.2,358.7 L178.5,367.1 L179.8,408.2 L181.0,384.9 L182.2,367.2 L183.5,348.8 L184.8,411.3 L186.0,403.3 L187.2,374.8 L188.5,391.0 L189.8,358.3 L191.0,359.0 L192.2,364.2 L193.5,396.7 L194.8,395.4 L196.0,367.7 L197.2,407.0 L198.5,408.1 L199.8,392.4 L201.0,412.2 L202.2,378.0 L203.5,381.9 L204.8,397.4 L206.0,384.2 L207.2,404.9 L208.5,356.1 L209.8,418.4 L211.0,367.8 L212.2,383.9 L213.5,360.3 L214.8,410.9 L216.0,428.6 L217.2,428.3 L218.5,425.7 L219.8,374.3 L221.0,391.8 L222.2,403.9 L223.5,398.1 L224.8,451.9 L226.0,434.3 L227.2,431.8 L228.5,447.8 L229.8,414.8 L231.0,418.1 L232.2,422.0 L233.5,459.6 L234.8,458.9 L236.0,467.1 L237.2,479.0 L238.5,424.8 L239.8,441.4 L241.0,460.3 L242.2,427.6 L243.5,444.4 L244.8,482.9 L246.0,485.1 L247.2,484.4 L248.5,460.2 L249.8,453.6 L251.0,483.8 L252.2,449.5 L253.5,467.6 L254.8,487.7 L256.0,449.1 L257.2,442.6 L258.5,457.7 L259.8,472.9 L261.0,470.2" fill="none" stroke="#cccccc" stroke-width="1.0" stroke-linejoin="round" stroke-linecap="round" />
<path d="M43.0,475.3 L43.5,475.3 L44.0,475.3 L44.5,475.3 L45.0,475.3 L45.5,475.3 L46.0,475.3 L46.5,475.3 L47.0,475.2 L47.5,475.2 L48.0,475.2 L48.5,475.2 L49.0,475.2 L49.5,475.2 L50.0,475.2 L50.5,475.2 L51.0,475.2 L51.5,475.2 L52.0,475.2 L52.5,475.2 L53.0,475.2 L53.5,475.2 L54.0,475.2 L54.5,475.2 L55.0,475.2 L55.5,475.2 L56.0,475.2 L56.5,475.1 L57.0,475.1 L57.5,475.1 L58.0,475.1 L58.5,475.1 L59.0,475.1 L59.5,475.1 L60.0,475.1 L60.5,475.1 L61.0,475.1 L61.5,475.1 L62.0,475.1 L62.5,475.1 L63.0,475.1 L63.5,475.1 L64.0,475.1 L64.5,475.1 L65.0,475.1 L65.5,475.1 L66.0,475.1 L66.5,475.0 L67.0,475.0 L67.5,475.0 L68.0,475.0 L68.5,475.0 L69.0,475.0 L69.5,475.0 L70.0,475.0 L70.5,475.0 L71.0,475.0 L71.5,475.0 L72.0,475.0 L72.5,475.0 L73.0,475.0 L73.5,475.0 L74.0,475.0 L74.5,475.0 L75.0,475.0 L75.5,475.0 L76.0,474.9 L76.5,474.9 L77.0,474.9 L77.5,474.9 L78.0,474.9 L78.5,474.9 L79.0,474.9 L79.5,474.9 L80.0,474.9 L80.5,474.9 L81.0,474.9 L81.5,474.9 L82.0,474.9 L82.5,474.9 L83.0,474.9 L83.5,474.9 L84.0,474.9 L84.5,474.9 L85.0,474.9 L85.5,474.8 L86.0,474.8 L86.5,474.8 L87.0,474.8 L87.5,474.8 L88.0,474.8 L88.5,474.8 L89.0,474.8 L89.5,474.8 L90.0,474.8 L90.5,474.8 L91.0,474.8 L91.5,474.8 L92.0,474.8 L92.5,474.8 L93.0,474.8 L93.5,474.8 L94.0,474.8 L94.5,474.8 L95.0,474.7 L95.5,474.7 L96.0,474.7 L96.5,474.7 L97.0,474.7 L97.5,474.7 L98.0,474.7 L98.5,474.7 L99.0,474.7 L99.5,474.7 L100.0,474.7 L100.5,474.7 L101.0,474.7 L101.5,474.7 L102.0,474.7 L102.5,474.7 L103.0,474.7 L103.5,474.7 L104.0,474.7 L104.5,474.7 L105.0,474.6 L105.5,474.6 L106.0,474.6 L106.5,474.6 L107.0,474.6 L107.5,474.6 L108.0,474.6 L108.5,474.6 L109.0,474.6 L109.5,474.6 L110.0,474.6 L110.5,474.6 L111.0,474.6 L111.5,474.6 L112.0,474.6 L112.5,474.6 L113.0,474.6 L113.5,474.6 L114.0,474.6 L114.5,474.5 L115.0,474.5 L115.5,474.5 L116.0,474.5 L116.5,474.5 L117.0,474.5 L117.5,474.5 L118.0,474.5 L118.5,474.5 L119.0,474.5 L119.5,474.5 L120.0,474.5 L120.5,474.5 L121.0,474.5 L121.5,474.5 L122.0,474.5 L122.5,474.5 L123.0,474.5 L123.5,474.5 L124.0,474.4 L124.5,474.4 L125.0,474.4 L125.5,474.4 L126.0,474.4 L126.5,474.4 L127.0,474.4 L127.5,474.4 L128.0,474.4 L128.5,474.4 L129.0,474.4 L129.5,474.4 L130.0,474.4 L130.5,474.4 L131.0,474.4 L131.5,474.4 L132.0,474.4 L132.5,474.4 L133.0,474.4 L133.5,474.3 L134.0,474.3 L134.5,474.3 L135.0,474.3 L135.5,474.3 L136.0,474.3 L136.5,474.3 L137.0,474.3 L137.5,474.3 L138.0,474.3 L138.5,474.3 L139.0,474.3 L139.5,474.3 L140.0,474.3 L140.5,474.3 L141.0,474.3 L141.5,474.3 L142.0,474.3 L142.5,474.3 L143.0,474.2 L143.5,474.2 L144.0,474.2 L144.5,474.2 L145.0,474.2 L145.5,474.2 L146.0,474.2 L146.5,474.2 L147.0,474.2 L147.5,474.2 L148.0,474.2 L148.5,474.2 L149.0,474.2 L149.5,474.2 L150.0,474.2 L150.5,474.2 L151.0,474.2 L151.5,474.2 L152.0,474.2 L152.5,474.2 L153.0,474.1 L153.5,474.1 L154.0,474.1 L154.5,474.1 L155.0,474.1 L155.5,474.1 L156.0,474.1 L156.5,474.1 L157.0,474.1 L157.5,474.1 L158.0,474.1 L158.5,474.1 L159.0,474.1 L159.5,474.1 L160.0,474.1 L160.5,474.1 L161.0,474.0 L161.5,474.0 L162.0,474.0 L162.5,474.0 L163.0,474.0 L163.5,474.0 L164.0,474.0 L164.5,474.0 L165.0,474.0 L165.5,474.0 L166.0,473.9 L166.5,473.9 L167.0,473.9 L167.5,473.9 L168.0,473.9 L168.5,473.8 L169.0,473.8 L169.5,473.8 L170.0,473.7 L170.5,473.7 L171.0,473.6 L171.5,473.6 L172.0,473.5 L172.5,473.5 L173.0,473.4 L173.5,473.3 L174.0,473.2 L174.5,473.1 L175.0,473.0 L175.5,472.9 L176.0,472.7 L176.5,472.6 L177.0,472.4 L177.5,472.2 L178.0,472.0 L178.5,471.8 L179.0,471.6 L179.5,471.3 L180.0,471.0 L180.5,470.7 L181.0,470.3 L181.5,470.0 L182.0,469.6 L182.5,469.1 L183.0,468.6 L183.5,468.1 L184.0,467.6 L184.5,467.0 L185.0,466.3 L185.5,465.6 L186.0,464.9 L186.5,464.1 L187.0,463.3 L187.5,462.4 L188.0,461.5 L188.5,460.5 L189.0,459.5 L189.5,458.4 L190.0,457.3 L190.5,456.1 L191.0,454.8 L191.5,453.6 L192.0,452.2 L192.5,450.8 L193.0,449.4 L193.5,447.9 L194.0,446.4 L194.5,444.9 L195.0,443.3 L195.5,441.7 L196.0,440.0 L196.5,438.4 L197.0,436.7 L197.5,435.0 L198.0,433.3 L198.5,431.7 L199.0,430.0 L199.5,428.3 L200.0,426.7 L200.5,425.0 L201.0,423.5 L201.5,421.9 L202.0,420.4 L202.5,419.0 L203.0,417.6 L203.5,416.3 L204.0,415.0 L204.5,413.9 L205.0,412.8 L205.5,411.8 L206.0,410.9 L206.5,410.1 L207.0,409.4 L207.5,408.8 L208.0,408.3 L208.5,408.0 L209.0,407.7 L209.5,407.6 L210.0,407.6 L210.5,407.7 L211.0,407.9 L211.5,408.2 L212.0,408.7 L212.5,409.2 L213.0,409.9 L213.5,410.6 L214.0,411.5 L214.5,412.5 L215.0,413.5 L215.5,414.7 L216.0,415.9 L216.5,417.2 L217.0,418.5 L217.5,420.0 L218.0,421.4 L218.5,423.0 L219.0,424.5 L219.5,426.1 L220.0,427.8 L220.5,429.4 L221.0,431.1 L221.5,432.8 L222.0,434.4 L222.5,436.1 L223.0,437.8 L223.5,439.4 L224.0,441.1 L224.5,442.7 L225.0,444.2 L225.5,445.8 L226.0,447.3 L226.5,448.8 L227.0,450.2 L227.5,451.6 L228.0,452.9 L228.5,454.2 L229.0,455.4 L229.5,456.6 L230.0,457.8 L230.5,458.8 L231.0,459.9 L231.5,460.8 L232.0,461.8 L232.5,462.7 L233.0,463.5 L233.5,464.3 L234.0,465.0 L234.5,465.7 L235.0,466.3 L235.5,466.9 L236.0,467.5 L236.5,468.0 L237.0,468.5 L237.5,468.9 L238.0,469.3 L238.5,469.7 L239.0,470.0 L239.5,470.3 L240.0,470.6 L240.5,470.9 L241.0,471.1 L241.5,471.3 L242.0,471.5 L242.5,471.7 L243.0,471.9 L243.5,472.0 L244.0,472.1 L244.5,472.3 L245.0,472.4 L245.5,472.5 L246.0,472.5 L246.5,472.6 L247.0,472.7 L247.5,472.7 L248.0,472.8 L248.5,472.8 L249.0,472.9 L249.5,472.9 L250.0,472.9 L250.5,472.9 L251.0,473.0 L251.5,473.0 L252.0,473.0 L252.5,473.0 L253.0,473.0 L253.5,473.0 L254.0,473.0 L254.5,473.0 L255.0,473.0 L255.5,473.0 L256.0,473.0 L256.5,473.0 L257.0,473.0 L257.5,473.0 L258.0,473.0 L258.5,473.0 L259.0,473.0 L259.5,473.0 L260.0,473.0 L260.5,473.0 L261.0,473.0 L261.5,473.0 L262.0,473.0" fill="none" stroke="#4a7d1f" stroke-width="2.3" stroke-linejoin="round" stroke-linecap="round" />
<path d="M43.0,474.8 L43.5,474.7 L44.0,474.7 L44.5,474.7 L45.0,474.7 L45.5,474.7 L46.0,474.7 L46.5,474.7 L47.0,474.7 L47.5,474.7 L48.0,474.6 L48.5,474.6 L49.0,474.6 L49.5,474.6 L50.0,474.6 L50.5,474.6 L51.0,474.6 L51.5,474.6 L52.0,474.5 L52.5,474.5 L53.0,474.5 L53.5,474.5 L54.0,474.5 L54.5,474.5 L55.0,474.5 L55.5,474.5 L56.0,474.4 L56.5,474.4 L57.0,474.4 L57.5,474.4 L58.0,474.4 L58.5,474.4 L59.0,474.4 L59.5,474.4 L60.0,474.3 L60.5,474.3 L61.0,474.3 L61.5,474.3 L62.0,474.3 L62.5,474.3 L63.0,474.2 L63.5,474.2 L64.0,474.2 L64.5,474.2 L65.0,474.2 L65.5,474.2 L66.0,474.1 L66.5,474.1 L67.0,474.1 L67.5,474.1 L68.0,474.1 L68.5,474.1 L69.0,474.0 L69.5,474.0 L70.0,474.0 L70.5,474.0 L71.0,474.0 L71.5,473.9 L72.0,473.9 L72.5,473.9 L73.0,473.9 L73.5,473.9 L74.0,473.8 L74.5,473.8 L75.0,473.8 L75.5,473.8 L76.0,473.8 L76.5,473.7 L77.0,473.7 L77.5,473.7 L78.0,473.7 L78.5,473.6 L79.0,473.6 L79.5,473.6 L80.0,473.6 L80.5,473.5 L81.0,473.5 L81.5,473.5 L82.0,473.4 L82.5,473.4 L83.0,473.4 L83.5,473.4 L84.0,473.3 L84.5,473.3 L85.0,473.3 L85.5,473.2 L86.0,473.2 L86.5,473.1 L87.0,473.1 L87.5,473.1 L88.0,473.0 L88.5,473.0 L89.0,472.9 L89.5,472.9 L90.0,472.8 L90.5,472.8 L91.0,472.7 L91.5,472.7 L92.0,472.6 L92.5,472.5 L93.0,472.5 L93.5,472.4 L94.0,472.3 L94.5,472.2 L95.0,472.1 L95.5,472.1 L96.0,472.0 L96.5,471.8 L97.0,471.7 L97.5,471.6 L98.0,471.5 L98.5,471.3 L99.0,471.2 L99.5,471.0 L100.0,470.8 L100.5,470.7 L101.0,470.5 L101.5,470.2 L102.0,470.0 L102.5,469.8 L103.0,469.5 L103.5,469.2 L104.0,468.9 L104.5,468.6 L105.0,468.2 L105.5,467.8 L106.0,467.4 L106.5,467.0 L107.0,466.5 L107.5,466.1 L108.0,465.5 L108.5,465.0 L109.0,464.4 L109.5,463.7 L110.0,463.1 L110.5,462.3 L111.0,461.6 L111.5,460.8 L112.0,459.9 L112.5,459.0 L113.0,458.1 L113.5,457.1 L114.0,456.0 L114.5,454.9 L115.0,453.8 L115.5,452.6 L116.0,451.3 L116.5,450.0 L117.0,448.6 L117.5,447.2 L118.0,445.7 L118.5,444.2 L119.0,442.6 L119.5,441.0 L120.0,439.3 L120.5,437.5 L121.0,435.7 L121.5,433.8 L122.0,431.9 L122.5,430.0 L123.0,428.0 L123.5,426.0 L124.0,423.9 L124.5,421.9 L125.0,419.7 L125.5,417.6 L126.0,415.5 L126.5,413.3 L127.0,411.1 L127.5,408.9 L128.0,406.8 L128.5,404.6 L129.0,402.5 L129.5,400.3 L130.0,398.2 L130.5,396.2 L131.0,394.1 L131.5,392.2 L132.0,390.3 L132.5,388.4 L133.0,386.6 L133.5,384.9 L134.0,383.3 L134.5,381.8 L135.0,380.4 L135.5,379.1 L136.0,377.9 L136.5,376.9 L137.0,375.9 L137.5,375.1 L138.0,374.5 L138.5,374.0 L139.0,373.6 L139.5,373.4 L140.0,373.3 L140.5,373.4 L141.0,373.6 L141.5,373.9 L142.0,374.4 L142.5,375.1 L143.0,375.9 L143.5,376.8 L144.0,377.9 L144.5,379.0 L145.0,380.3 L145.5,381.7 L146.0,383.2 L146.5,384.8 L147.0,386.5 L147.5,388.3 L148.0,390.1 L148.5,392.0 L149.0,394.0 L149.5,396.0 L150.0,398.0 L150.5,400.1 L151.0,402.2 L151.5,404.4 L152.0,406.5 L152.5,408.7 L153.0,410.8 L153.5,413.0 L154.0,415.2 L154.5,417.3 L155.0,419.4 L155.5,421.5 L156.0,423.6 L156.5,425.7 L157.0,427.7 L157.5,429.6 L158.0,431.6 L158.5,433.5 L159.0,435.3 L159.5,437.1 L160.0,438.8 L160.5,440.5 L161.0,442.2 L161.5,443.7 L162.0,445.3 L162.5,446.7 L163.0,448.2 L163.5,449.5 L164.0,450.8 L164.5,452.1 L165.0,453.3 L165.5,454.4 L166.0,455.5 L166.5,456.5 L167.0,457.5 L167.5,458.5 L168.0,459.3 L168.5,460.2 L169.0,461.0 L169.5,461.7 L170.0,462.4 L170.5,463.1 L171.0,463.7 L171.5,464.3 L172.0,464.9 L172.5,465.4 L173.0,465.9 L173.5,466.3 L174.0,466.7 L174.5,467.1 L175.0,467.5 L175.5,467.8 L176.0,468.2 L176.5,468.5 L177.0,468.7 L177.5,469.0 L178.0,469.2 L178.5,469.4 L179.0,469.7 L179.5,469.8 L180.0,470.0 L180.5,470.2 L181.0,470.3 L181.5,470.5 L182.0,470.6 L182.5,470.7 L183.0,470.8 L183.5,470.9 L184.0,471.0 L184.5,471.1 L185.0,471.2 L185.5,471.3 L186.0,471.4 L186.5,471.4 L187.0,471.5 L187.5,471.5 L188.0,471.6 L188.5,471.7 L189.0,471.7 L189.5,471.7 L190.0,471.8 L190.5,471.8 L191.0,471.9 L191.5,471.9 L192.0,471.9 L192.5,472.0 L193.0,472.0 L193.5,472.0 L194.0,472.1 L194.5,472.1 L195.0,472.1 L195.5,472.1 L196.0,472.2 L196.5,472.2 L197.0,472.2 L197.5,472.2 L198.0,472.2 L198.5,472.3 L199.0,472.3 L199.5,472.3 L200.0,472.3 L200.5,472.3 L201.0,472.3 L201.5,472.4 L202.0,472.4 L202.5,472.4 L203.0,472.4 L203.5,472.4 L204.0,472.4 L204.5,472.4 L205.0,472.5 L205.5,472.5 L206.0,472.5 L206.5,472.5 L207.0,472.5 L207.5,472.5 L208.0,472.5 L208.5,472.5 L209.0,472.5 L209.5,472.5 L210.0,472.6 L210.5,472.6 L211.0,472.6 L211.5,472.6 L212.0,472.6 L212.5,472.6 L213.0,472.6 L213.5,472.6 L214.0,472.6 L214.5,472.6 L215.0,472.6 L215.5,472.6 L216.0,472.6 L216.5,472.6 L217.0,472.6 L217.5,472.6 L218.0,472.7 L218.5,472.7 L219.0,472.7 L219.5,472.7 L220.0,472.7 L220.5,472.7 L221.0,472.7 L221.5,472.7 L222.0,472.7 L222.5,472.7 L223.0,472.7 L223.5,472.7 L224.0,472.7 L224.5,472.7 L225.0,472.7 L225.5,472.7 L226.0,472.7 L226.5,472.7 L227.0,472.7 L227.5,472.7 L228.0,472.7 L228.5,472.7 L229.0,472.7 L229.5,472.7 L230.0,472.7 L230.5,472.7 L231.0,472.7 L231.5,472.7 L232.0,472.7 L232.5,472.7 L233.0,472.7 L233.5,472.7 L234.0,472.7 L234.5,472.7 L235.0,472.7 L235.5,472.7 L236.0,472.7 L236.5,472.7 L237.0,472.7 L237.5,472.7 L238.0,472.7 L238.5,472.7 L239.0,472.7 L239.5,472.7 L240.0,472.7 L240.5,472.7 L241.0,472.7 L241.5,472.7 L242.0,472.7 L242.5,472.7 L243.0,472.7 L243.5,472.7 L244.0,472.7 L244.5,472.7 L245.0,472.7 L245.5,472.7 L246.0,472.7 L246.5,472.7 L247.0,472.7 L247.5,472.7 L248.0,472.7 L248.5,472.7 L249.0,472.7 L249.5,472.7 L250.0,472.7 L250.5,472.7 L251.0,472.7 L251.5,472.7 L252.0,472.7 L252.5,472.7 L253.0,472.7 L253.5,472.7 L254.0,472.7 L254.5,472.7 L255.0,472.7 L255.5,472.7 L256.0,472.7 L256.5,472.7 L257.0,472.7 L257.5,472.7 L258.0,472.7 L258.5,472.7 L259.0,472.7 L259.5,472.7 L260.0,472.7 L260.5,472.7 L261.0,472.7 L261.5,472.7 L262.0,472.7" fill="none" stroke="#7a4b46" stroke-width="2.3" stroke-linejoin="round" stroke-linecap="round" />
<path d="M43.0,475.0 L43.5,475.0 L44.0,475.0 L44.5,475.0 L45.0,475.0 L45.5,475.0 L46.0,475.0 L46.5,474.9 L47.0,474.9 L47.5,474.9 L48.0,474.9 L48.5,474.9 L49.0,474.9 L49.5,474.9 L50.0,474.9 L50.5,474.9 L51.0,474.9 L51.5,474.9 L52.0,474.9 L52.5,474.9 L53.0,474.9 L53.5,474.8 L54.0,474.8 L54.5,474.8 L55.0,474.8 L55.5,474.8 L56.0,474.8 L56.5,474.8 L57.0,474.8 L57.5,474.8 L58.0,474.8 L58.5,474.8 L59.0,474.8 L59.5,474.7 L60.0,474.7 L60.5,474.7 L61.0,474.7 L61.5,474.7 L62.0,474.7 L62.5,474.7 L63.0,474.7 L63.5,474.7 L64.0,474.7 L64.5,474.7 L65.0,474.7 L65.5,474.6 L66.0,474.6 L66.5,474.6 L67.0,474.6 L67.5,474.6 L68.0,474.6 L68.5,474.6 L69.0,474.6 L69.5,474.6 L70.0,474.6 L70.5,474.6 L71.0,474.5 L71.5,474.5 L72.0,474.5 L72.5,474.5 L73.0,474.5 L73.5,474.5 L74.0,474.5 L74.5,474.5 L75.0,474.5 L75.5,474.5 L76.0,474.4 L76.5,474.4 L77.0,474.4 L77.5,474.4 L78.0,474.4 L78.5,474.4 L79.0,474.4 L79.5,474.4 L80.0,474.4 L80.5,474.4 L81.0,474.3 L81.5,474.3 L82.0,474.3 L82.5,474.3 L83.0,474.3 L83.5,474.3 L84.0,474.3 L84.5,474.3 L85.0,474.3 L85.5,474.2 L86.0,474.2 L86.5,474.2 L87.0,474.2 L87.5,474.2 L88.0,474.2 L88.5,474.2 L89.0,474.2 L89.5,474.1 L90.0,474.1 L90.5,474.1 L91.0,474.1 L91.5,474.1 L92.0,474.1 L92.5,474.1 L93.0,474.1 L93.5,474.0 L94.0,474.0 L94.5,474.0 L95.0,474.0 L95.5,474.0 L96.0,474.0 L96.5,474.0 L97.0,473.9 L97.5,473.9 L98.0,473.9 L98.5,473.9 L99.0,473.9 L99.5,473.9 L100.0,473.9 L100.5,473.8 L101.0,473.8 L101.5,473.8 L102.0,473.8 L102.5,473.8 L103.0,473.8 L103.5,473.7 L104.0,473.7 L104.5,473.7 L105.0,473.7 L105.5,473.7 L106.0,473.7 L106.5,473.6 L107.0,473.6 L107.5,473.6 L108.0,473.6 L108.5,473.6 L109.0,473.5 L109.5,473.5 L110.0,473.5 L110.5,473.5 L111.0,473.5 L111.5,473.4 L112.0,473.4 L112.5,473.4 L113.0,473.4 L113.5,473.3 L114.0,473.3 L114.5,473.3 L115.0,473.3 L115.5,473.2 L116.0,473.2 L116.5,473.2 L117.0,473.1 L117.5,473.1 L118.0,473.1 L118.5,473.0 L119.0,473.0 L119.5,473.0 L120.0,472.9 L120.5,472.9 L121.0,472.9 L121.5,472.8 L122.0,472.8 L122.5,472.7 L123.0,472.7 L123.5,472.6 L124.0,472.6 L124.5,472.5 L125.0,472.4 L125.5,472.4 L126.0,472.3 L126.5,472.2 L127.0,472.2 L127.5,472.1 L128.0,472.0 L128.5,471.9 L129.0,471.8 L129.5,471.7 L130.0,471.6 L130.5,471.5 L131.0,471.4 L131.5,471.3 L132.0,471.1 L132.5,471.0 L133.0,470.8 L133.5,470.7 L134.0,470.5 L134.5,470.3 L135.0,470.1 L135.5,469.9 L136.0,469.7 L136.5,469.4 L137.0,469.2 L137.5,468.9 L138.0,468.6 L138.5,468.3 L139.0,468.0 L139.5,467.7 L140.0,467.4 L140.5,467.0 L141.0,466.6 L141.5,466.2 L142.0,465.7 L142.5,465.3 L143.0,464.8 L143.5,464.3 L144.0,463.8 L144.5,463.2 L145.0,462.6 L145.5,462.0 L146.0,461.4 L146.5,460.7 L147.0,460.0 L147.5,459.3 L148.0,458.5 L148.5,457.7 L149.0,456.9 L149.5,456.1 L150.0,455.2 L150.5,454.3 L151.0,453.3 L151.5,452.3 L152.0,451.3 L152.5,450.3 L153.0,449.2 L153.5,448.1 L154.0,447.0 L154.5,445.8 L155.0,444.6 L155.5,443.4 L156.0,442.2 L156.5,440.9 L157.0,439.6 L157.5,438.3 L158.0,436.9 L158.5,435.6 L159.0,434.2 L159.5,432.8 L160.0,431.4 L160.5,430.0 L161.0,428.6 L161.5,427.1 L162.0,425.7 L162.5,424.3 L163.0,422.8 L163.5,421.4 L164.0,420.0 L164.5,418.6 L165.0,417.2 L165.5,415.8 L166.0,414.4 L166.5,413.1 L167.0,411.8 L167.5,410.5 L168.0,409.3 L168.5,408.1 L169.0,406.9 L169.5,405.8 L170.0,404.7 L170.5,403.7 L171.0,402.8 L171.5,401.9 L172.0,401.0 L172.5,400.3 L173.0,399.6 L173.5,399.0 L174.0,398.4 L174.5,398.0 L175.0,397.6 L175.5,397.3 L176.0,397.1 L176.5,396.9 L177.0,396.9 L177.5,396.9 L178.0,397.1 L178.5,397.3 L179.0,397.6 L179.5,397.9 L180.0,398.4 L180.5,398.9 L181.0,399.5 L181.5,400.2 L182.0,400.9 L182.5,401.8 L183.0,402.6 L183.5,403.6 L184.0,404.6 L184.5,405.6 L185.0,406.7 L185.5,407.9 L186.0,409.1 L186.5,410.3 L187.0,411.6 L187.5,412.9 L188.0,414.2 L188.5,415.5 L189.0,416.9 L189.5,418.3 L190.0,419.7 L190.5,421.1 L191.0,422.5 L191.5,424.0 L192.0,425.4 L192.5,426.8 L193.0,428.2 L193.5,429.7 L194.0,431.1 L194.5,432.5 L195.0,433.8 L195.5,435.2 L196.0,436.6 L196.5,437.9 L197.0,439.2 L197.5,440.5 L198.0,441.7 L198.5,443.0 L199.0,444.2 L199.5,445.4 L200.0,446.5 L200.5,447.6 L201.0,448.7 L201.5,449.8 L202.0,450.8 L202.5,451.8 L203.0,452.8 L203.5,453.7 L204.0,454.6 L204.5,455.5 L205.0,456.3 L205.5,457.1 L206.0,457.9 L206.5,458.7 L207.0,459.4 L207.5,460.1 L208.0,460.7 L208.5,461.4 L209.0,462.0 L209.5,462.5 L210.0,463.1 L210.5,463.6 L211.0,464.1 L211.5,464.6 L212.0,465.0 L212.5,465.4 L213.0,465.8 L213.5,466.2 L214.0,466.6 L214.5,466.9 L215.0,467.2 L215.5,467.5 L216.0,467.8 L216.5,468.1 L217.0,468.4 L217.5,468.6 L218.0,468.8 L218.5,469.0 L219.0,469.2 L219.5,469.4 L220.0,469.6 L220.5,469.8 L221.0,469.9 L221.5,470.0 L222.0,470.2 L222.5,470.3 L223.0,470.4 L223.5,470.5 L224.0,470.6 L224.5,470.7 L225.0,470.8 L225.5,470.9 L226.0,471.0 L226.5,471.1 L227.0,471.1 L227.5,471.2 L228.0,471.3 L228.5,471.3 L229.0,471.4 L229.5,471.4 L230.0,471.5 L230.5,471.5 L231.0,471.5 L231.5,471.6 L232.0,471.6 L232.5,471.7 L233.0,471.7 L233.5,471.7 L234.0,471.8 L234.5,471.8 L235.0,471.8 L235.5,471.8 L236.0,471.9 L236.5,471.9 L237.0,471.9 L237.5,471.9 L238.0,471.9 L238.5,471.9 L239.0,472.0 L239.5,472.0 L240.0,472.0 L240.5,472.0 L241.0,472.0 L241.5,472.0 L242.0,472.1 L242.5,472.1 L243.0,472.1 L243.5,472.1 L244.0,472.1 L244.5,472.1 L245.0,472.1 L245.5,472.1 L246.0,472.1 L246.5,472.2 L247.0,472.2 L247.5,472.2 L248.0,472.2 L248.5,472.2 L249.0,472.2 L249.5,472.2 L250.0,472.2 L250.5,472.2 L251.0,472.2 L251.5,472.2 L252.0,472.2 L252.5,472.2 L253.0,472.2 L253.5,472.2 L254.0,472.3 L254.5,472.3 L255.0,472.3 L255.5,472.3 L256.0,472.3 L256.5,472.3 L257.0,472.3 L257.5,472.3 L258.0,472.3 L258.5,472.3 L259.0,472.3 L259.5,472.3 L260.0,472.3 L260.5,472.3 L261.0,472.3 L261.5,472.3 L262.0,472.3" fill="none" stroke="#8a2fd6" stroke-width="2.3" stroke-linejoin="round" stroke-linecap="round" />
<path d="M43.0,469.2 L43.5,469.1 L44.0,469.0 L44.5,468.9 L45.0,468.8 L45.5,468.8 L46.0,468.7 L46.5,468.6 L47.0,468.5 L47.5,468.4 L48.0,468.3 L48.5,468.2 L49.0,468.1 L49.5,468.0 L50.0,467.9 L50.5,467.8 L51.0,467.6 L51.5,467.5 L52.0,467.4 L52.5,467.3 L53.0,467.2 L53.5,467.0 L54.0,466.9 L54.5,466.8 L55.0,466.6 L55.5,466.5 L56.0,466.3 L56.5,466.2 L57.0,466.0 L57.5,465.9 L58.0,465.7 L58.5,465.6 L59.0,465.4 L59.5,465.2 L60.0,465.0 L60.5,464.9 L61.0,464.7 L61.5,464.5 L62.0,464.3 L62.5,464.1 L63.0,463.8 L63.5,463.6 L64.0,463.4 L64.5,463.2 L65.0,462.9 L65.5,462.7 L66.0,462.4 L66.5,462.1 L67.0,461.9 L67.5,461.6 L68.0,461.3 L68.5,461.0 L69.0,460.7 L69.5,460.3 L70.0,460.0 L70.5,459.7 L71.0,459.3 L71.5,458.9 L72.0,458.6 L72.5,458.2 L73.0,457.8 L73.5,457.4 L74.0,456.9 L74.5,456.5 L75.0,456.0 L75.5,455.5 L76.0,455.0 L76.5,454.5 L77.0,454.0 L77.5,453.5 L78.0,452.9 L78.5,452.4 L79.0,451.8 L79.5,451.2 L80.0,450.5 L80.5,449.9 L81.0,449.2 L81.5,448.5 L82.0,447.8 L82.5,447.1 L83.0,446.4 L83.5,445.6 L84.0,444.8 L84.5,444.0 L85.0,443.2 L85.5,442.4 L86.0,441.5 L86.5,440.6 L87.0,439.7 L87.5,438.7 L88.0,437.8 L88.5,436.8 L89.0,435.8 L89.5,434.7 L90.0,433.7 L90.5,432.6 L91.0,431.5 L91.5,430.4 L92.0,429.2 L92.5,428.1 L93.0,426.9 L93.5,425.6 L94.0,424.4 L94.5,423.1 L95.0,421.9 L95.5,420.5 L96.0,419.2 L96.5,417.9 L97.0,416.5 L97.5,415.3 L98.0,414.1 L98.5,412.8 L99.0,411.5 L99.5,410.3 L100.0,409.2 L100.5,408.0 L101.0,407.0 L101.5,406.0 L102.0,405.0 L102.5,404.0 L103.0,403.1 L103.5,401.7 L104.0,400.2 L104.5,398.5 L105.0,396.8 L105.5,394.9 L106.0,392.8 L106.5,390.7 L107.0,388.5 L107.5,386.3 L108.0,384.2 L108.5,382.0 L109.0,379.9 L109.5,377.9 L110.0,375.9 L110.5,374.1 L111.0,372.3 L111.5,370.6 L112.0,368.9 L112.5,367.4 L113.0,365.9 L113.5,364.5 L114.0,363.2 L114.5,362.0 L115.0,360.9 L115.5,359.8 L116.0,358.8 L116.5,357.8 L117.0,357.0 L117.5,356.1 L118.0,355.4 L118.5,354.7 L119.0,354.0 L119.5,353.5 L120.0,352.9 L120.5,352.4 L121.0,351.9 L121.5,351.5 L122.0,351.0 L122.5,350.6 L123.0,350.2 L123.5,349.7 L124.0,349.3 L124.5,348.8 L125.0,348.3 L125.5,347.8 L126.0,347.2 L126.5,346.6 L127.0,346.0 L127.5,345.4 L128.0,344.7 L128.5,344.1 L129.0,343.4 L129.5,342.7 L130.0,342.0 L130.5,341.3 L131.0,340.5 L131.5,339.8 L132.0,339.1 L132.5,338.4 L133.0,337.7 L133.5,337.0 L134.0,336.4 L134.5,335.8 L135.0,335.2 L135.5,334.7 L136.0,334.3 L136.5,333.9 L137.0,333.5 L137.5,333.3 L138.0,333.2 L138.5,333.1 L139.0,333.2 L139.5,333.3 L140.0,333.5 L140.5,333.9 L141.0,334.3 L141.5,334.9 L142.0,335.6 L142.5,336.4 L143.0,337.3 L143.5,338.3 L144.0,339.5 L144.5,340.8 L145.0,342.2 L145.5,343.7 L146.0,345.4 L146.5,347.1 L147.0,348.9 L147.5,350.8 L148.0,352.7 L148.5,354.6 L149.0,356.6 L149.5,358.5 L150.0,360.4 L150.5,362.3 L151.0,364.2 L151.5,366.0 L152.0,367.7 L152.5,369.4 L153.0,371.0 L153.5,372.5 L154.0,374.0 L154.5,375.4 L155.0,376.8 L155.5,378.0 L156.0,379.2 L156.5,380.4 L157.0,381.4 L157.5,382.4 L158.0,383.3 L158.5,384.1 L159.0,384.8 L159.5,385.5 L160.0,386.1 L160.5,386.6 L161.0,387.0 L161.5,387.4 L162.0,387.7 L162.5,388.0 L163.0,388.1 L163.5,388.3 L164.0,388.3 L164.5,388.3 L165.0,388.2 L165.5,388.1 L166.0,387.9 L166.5,387.7 L167.0,387.5 L167.5,387.2 L168.0,386.9 L168.5,386.6 L169.0,386.2 L169.5,385.9 L170.0,385.5 L170.5,385.1 L171.0,384.8 L171.5,384.4 L172.0,384.1 L172.5,383.8 L173.0,383.5 L173.5,383.2 L174.0,383.0 L174.5,382.8 L175.0,382.6 L175.5,382.5 L176.0,382.5 L176.5,382.5 L177.0,382.5 L177.5,382.6 L178.0,382.8 L178.5,383.0 L179.0,383.3 L179.5,383.6 L180.0,383.9 L180.5,384.3 L181.0,384.7 L181.5,385.1 L182.0,385.5 L182.5,385.9 L183.0,386.4 L183.5,386.8 L184.0,387.3 L184.5,387.7 L185.0,388.2 L185.5,388.6 L186.0,389.1 L186.5,389.5 L187.0,389.9 L187.5,390.3 L188.0,390.6 L188.5,391.0 L189.0,391.3 L189.5,391.6 L190.0,391.9 L190.5,392.1 L191.0,392.4 L191.5,392.6 L192.0,392.8 L192.5,392.9 L193.0,393.1 L193.5,393.2 L194.0,393.3 L194.5,393.4 L195.0,393.4 L195.5,393.4 L196.0,393.4 L196.5,393.4 L197.0,393.3 L197.5,393.3 L198.0,393.2 L198.5,393.1 L199.0,392.9 L199.5,392.8 L200.0,392.6 L200.5,392.5 L201.0,392.3 L201.5,392.1 L202.0,391.9 L202.5,391.7 L203.0,391.6 L203.5,391.4 L204.0,391.3 L204.5,391.2 L205.0,391.2 L205.5,391.2 L206.0,391.3 L206.5,391.4 L207.0,391.6 L207.5,391.8 L208.0,392.1 L208.5,392.4 L209.0,392.8 L209.5,393.2 L210.0,393.7 L210.5,394.3 L211.0,395.0 L211.5,395.7 L212.0,396.6 L212.5,397.5 L213.0,398.6 L213.5,399.7 L214.0,400.9 L214.5,402.2 L215.0,403.5 L215.5,404.9 L216.0,406.2 L216.5,407.6 L217.0,408.9 L217.5,410.2 L218.0,411.6 L218.5,413.0 L219.0,414.5 L219.5,416.1 L220.0,417.8 L220.5,419.5 L221.0,421.3 L221.5,423.1 L222.0,424.9 L222.5,426.7 L223.0,428.5 L223.5,430.2 L224.0,431.9 L224.5,433.5 L225.0,435.1 L225.5,436.6 L226.0,438.1 L226.5,439.6 L227.0,441.0 L227.5,442.4 L228.0,443.7 L228.5,445.0 L229.0,446.3 L229.5,447.6 L230.0,448.8 L230.5,450.0 L231.0,451.2 L231.5,452.4 L232.0,453.6 L232.5,454.8 L233.0,456.0 L233.5,457.1 L234.0,458.2 L234.5,459.2 L235.0,460.2 L235.5,461.2 L236.0,462.2 L236.5,463.1 L237.0,463.9 L237.5,464.7 L238.0,465.4 L238.5,466.1 L239.0,466.7 L239.5,467.2 L240.0,467.7 L240.5,468.1 L241.0,468.5 L241.5,468.8 L242.0,469.1 L242.5,469.4 L243.0,469.6 L243.5,469.8 L244.0,470.0 L244.5,470.1 L245.0,470.2 L245.5,470.4 L246.0,470.5 L246.5,470.6 L247.0,470.7 L247.5,470.7 L248.0,470.8 L248.5,470.9 L249.0,470.9 L249.5,471.0 L250.0,471.0 L250.5,471.1 L251.0,471.1 L251.5,471.2 L252.0,471.2 L252.5,471.2 L253.0,471.3 L253.5,471.3 L254.0,471.3 L254.5,471.3 L255.0,471.3 L255.5,471.3 L256.0,471.3 L256.5,471.3 L257.0,471.3 L257.5,471.3 L258.0,471.3 L258.5,471.3 L259.0,471.3 L259.5,471.3 L260.0,471.3 L260.5,471.3 L261.0,471.3 L261.5,471.3 L262.0,471.3" fill="none" stroke="#f23c3c" stroke-width="2.5" stroke-linejoin="round" stroke-linecap="round" />
<path d="M43.0,469.7 L43.5,469.6 L44.0,469.5 L44.5,469.4 L45.0,469.4 L45.5,469.3 L46.0,469.2 L46.5,469.1 L47.0,469.0 L47.5,468.9 L48.0,468.8 L48.5,468.7 L49.0,468.6 L49.5,468.5 L50.0,468.4 L50.5,468.3 L51.0,468.2 L51.5,468.1 L52.0,468.0 L52.5,467.9 L53.0,467.7 L53.5,467.6 L54.0,467.5 L54.5,467.4 L55.0,467.2 L55.5,467.1 L56.0,466.9 L56.5,466.8 L57.0,466.6 L57.5,466.5 L58.0,466.3 L58.5,466.2 L59.0,466.0 L59.5,465.8 L60.0,465.7 L60.5,465.5 L61.0,465.3 L61.5,465.1 L62.0,464.9 L62.5,464.7 L63.0,464.5 L63.5,464.3 L64.0,464.0 L64.5,463.8 L65.0,463.6 L65.5,463.3 L66.0,463.1 L66.5,462.8 L67.0,462.5 L67.5,462.2 L68.0,461.9 L68.5,461.6 L69.0,461.3 L69.5,461.0 L70.0,460.7 L70.5,460.3 L71.0,460.0 L71.5,459.6 L72.0,459.2 L72.5,458.8 L73.0,458.4 L73.5,458.0 L74.0,457.6 L74.5,457.1 L75.0,456.7 L75.5,456.2 L76.0,455.7 L76.5,455.2 L77.0,454.7 L77.5,454.1 L78.0,453.6 L78.5,453.0 L79.0,452.4 L79.5,451.8 L80.0,451.1 L80.5,450.5 L81.0,449.8 L81.5,449.1 L82.0,448.4 L82.5,447.7 L83.0,446.9 L83.5,446.2 L84.0,445.4 L84.5,444.6 L85.0,443.7 L85.5,442.9 L86.0,442.0 L86.5,441.1 L87.0,440.2 L87.5,439.2 L88.0,438.3 L88.5,437.3 L89.0,436.3 L89.5,435.2 L90.0,434.2 L90.5,433.1 L91.0,432.0 L91.5,430.9 L92.0,429.7 L92.5,428.5 L93.0,427.4 L93.5,426.1 L94.0,424.9 L94.5,423.7 L95.0,422.4 L95.5,421.1 L96.0,419.8 L96.5,418.5 L97.0,417.2 L97.5,415.9 L98.0,414.5 L98.5,413.2 L99.0,411.8 L99.5,410.5 L100.0,409.1 L100.5,407.7 L101.0,406.4 L101.5,405.0 L102.0,403.7 L102.5,402.3 L103.0,401.0 L103.5,399.7 L104.0,398.4 L104.5,397.1 L105.0,395.9 L105.5,394.7 L106.0,393.5 L106.5,392.3 L107.0,391.3 L107.5,390.2 L108.0,389.2 L108.5,388.3 L109.0,387.4 L109.5,386.6 L110.0,385.8 L110.5,385.1 L111.0,384.5 L111.5,384.0 L112.0,383.6 L112.5,383.2 L113.0,382.9 L113.5,382.7 L114.0,382.6 L114.5,382.5 L115.0,382.6 L115.5,382.7 L116.0,383.0 L116.5,383.3 L117.0,383.7 L117.5,384.1 L118.0,384.7 L118.5,385.3 L119.0,386.0 L119.5,386.8 L120.0,387.6 L120.5,388.5 L121.0,389.5 L121.5,390.5 L122.0,391.5 L122.5,392.6 L123.0,393.8 L123.5,394.9 L124.0,396.2 L124.5,397.4 L125.0,398.7 L125.5,400.0 L126.0,401.3 L126.5,402.6 L127.0,403.9 L127.5,405.3 L128.0,406.6 L128.5,408.0 L129.0,409.3 L129.5,410.7 L130.0,412.1 L130.5,413.4 L131.0,414.7 L131.5,416.1 L132.0,417.4 L132.5,418.7 L133.0,420.0 L133.5,421.3 L134.0,422.5 L134.5,423.8 L135.0,425.0 L135.5,426.2 L136.0,427.4 L136.5,428.6 L137.0,429.7 L137.5,430.8 L138.0,431.9 L138.5,433.0 L139.0,434.1 L139.5,435.1 L140.0,436.1 L140.5,437.1 L141.0,438.1 L141.5,439.0 L142.0,440.0 L142.5,440.9 L143.0,441.8 L143.5,442.6 L144.0,443.5 L144.5,444.3 L145.0,445.1 L145.5,445.8 L146.0,446.6 L146.5,447.3 L147.0,448.0 L147.5,448.7 L148.0,449.4 L148.5,450.0 L149.0,450.7 L149.5,451.3 L150.0,451.9 L150.5,452.5 L151.0,453.0 L151.5,453.6 L152.0,454.1 L152.5,454.6 L153.0,455.1 L153.5,455.6 L154.0,456.0 L154.5,456.5 L155.0,456.9 L155.5,457.3 L156.0,457.7 L156.5,458.1 L157.0,458.5 L157.5,458.9 L158.0,459.2 L158.5,459.6 L159.0,459.9 L159.5,460.2 L160.0,460.5 L160.5,460.8 L161.0,461.1 L161.5,461.4 L162.0,461.6 L162.5,461.9 L163.0,462.2 L163.5,462.4 L164.0,462.6 L164.5,462.9 L165.0,463.1 L165.5,463.3 L166.0,463.5 L166.5,463.7 L167.0,463.9 L167.5,464.1 L168.0,464.3 L168.5,464.4 L169.0,464.6 L169.5,464.8 L170.0,464.9 L170.5,465.1 L171.0,465.2 L171.5,465.4 L172.0,465.5 L172.5,465.6 L173.0,465.8 L173.5,465.9 L174.0,466.0 L174.5,466.2 L175.0,466.3 L175.5,466.4 L176.0,466.5 L176.5,466.6 L177.0,466.7 L177.5,466.8 L178.0,466.9 L178.5,467.0 L179.0,467.1 L179.5,467.2 L180.0,467.3 L180.5,467.4 L181.0,467.5 L181.5,467.6 L182.0,467.6 L182.5,467.7 L183.0,467.8 L183.5,467.9 L184.0,467.9 L184.5,468.0 L185.0,468.1 L185.5,468.2 L186.0,468.2 L186.5,468.3 L187.0,468.4 L187.5,468.4 L188.0,468.5 L188.5,468.5 L189.0,468.6 L189.5,468.7 L190.0,468.7 L190.5,468.8 L191.0,468.8 L191.5,468.9 L192.0,468.9 L192.5,469.0 L193.0,469.0 L193.5,469.1 L194.0,469.1 L194.5,469.2 L195.0,469.2 L195.5,469.3 L196.0,469.3 L196.5,469.4 L197.0,469.4 L197.5,469.5 L198.0,469.5 L198.5,469.5 L199.0,469.6 L199.5,469.6 L200.0,469.7 L200.5,469.7 L201.0,469.7 L201.5,469.8 L202.0,469.8 L202.5,469.9 L203.0,469.9 L203.5,469.9 L204.0,470.0 L204.5,470.0 L205.0,470.0 L205.5,470.1 L206.0,470.1 L206.5,470.1 L207.0,470.1 L207.5,470.2 L208.0,470.2 L208.5,470.2 L209.0,470.3 L209.5,470.3 L210.0,470.3 L210.5,470.3 L211.0,470.4 L211.5,470.4 L212.0,470.4 L212.5,470.4 L213.0,470.5 L213.5,470.5 L214.0,470.5 L214.5,470.5 L215.0,470.6 L215.5,470.6 L216.0,470.6 L216.5,470.6 L217.0,470.6 L217.5,470.7 L218.0,470.7 L218.5,470.7 L219.0,470.7 L219.5,470.8 L220.0,470.8 L220.5,470.8 L221.0,470.8 L221.5,470.8 L222.0,470.8 L222.5,470.9 L223.0,470.9 L223.5,470.9 L224.0,470.9 L224.5,470.9 L225.0,470.9 L225.5,471.0 L226.0,471.0 L226.5,471.0 L227.0,471.0 L227.5,471.0 L228.0,471.0 L228.5,471.1 L229.0,471.1 L229.5,471.1 L230.0,471.1 L230.5,471.1 L231.0,471.1 L231.5,471.1 L232.0,471.1 L232.5,471.2 L233.0,471.2 L233.5,471.2 L234.0,471.2 L234.5,471.2 L235.0,471.2 L235.5,471.2 L236.0,471.2 L236.5,471.3 L237.0,471.3 L237.5,471.3 L238.0,471.3 L238.5,471.3 L239.0,471.3 L239.5,471.3 L240.0,471.3 L240.5,471.3 L241.0,471.3 L241.5,471.4 L242.0,471.4 L242.5,471.4 L243.0,471.4 L243.5,471.4 L244.0,471.4 L244.5,471.4 L245.0,471.4 L245.5,471.4 L246.0,471.4 L246.5,471.4 L247.0,471.4 L247.5,471.5 L248.0,471.5 L248.5,471.5 L249.0,471.5 L249.5,471.5 L250.0,471.5 L250.5,471.5 L251.0,471.5 L251.5,471.5 L252.0,471.5 L252.5,471.5 L253.0,471.5 L253.5,471.5 L254.0,471.5 L254.5,471.5 L255.0,471.5 L255.5,471.6 L256.0,471.6 L256.5,471.6 L257.0,471.6 L257.5,471.6 L258.0,471.6 L258.5,471.6 L259.0,471.6 L259.5,471.6 L260.0,471.6 L260.5,471.6 L261.0,471.6 L261.5,471.6 L262.0,471.6" fill="none" stroke="#0b0b8c" stroke-width="2.7" stroke-linejoin="round" stroke-linecap="round" />
<line x1="66.58" y1="491.3" x2="66.58" y2="484.8" stroke="#000" stroke-width="2.2"/>
<line x1="115.73" y1="491.3" x2="115.73" y2="484.8" stroke="#000" stroke-width="2.2"/>
<line x1="164.89" y1="491.3" x2="164.89" y2="484.8" stroke="#000" stroke-width="2.2"/>
<line x1="214.04" y1="491.3" x2="214.04" y2="484.8" stroke="#000" stroke-width="2.2"/>
<rect x="42.0" y="295.5" width="221.20" height="195.80" fill="none" stroke="#000" stroke-width="2.5"/>
<text x="66.57777777777778" y="510.6" font-size="11.9" fill="#000" text-anchor="middle" textLength="20.5" lengthAdjust="spacingAndGlyphs" stroke="#000" stroke-width="0.3">404</text>
<text x="115.73333333333332" y="510.6" font-size="11.9" fill="#000" text-anchor="middle" textLength="20.5" lengthAdjust="spacingAndGlyphs" stroke="#000" stroke-width="0.3">402</text>
<text x="164.88888888888889" y="510.6" font-size="11.9" fill="#000" text-anchor="middle" textLength="20.5" lengthAdjust="spacingAndGlyphs" stroke="#000" stroke-width="0.3">400</text>
<text x="214.04444444444445" y="510.6" font-size="11.9" fill="#000" text-anchor="middle" textLength="20.5" lengthAdjust="spacingAndGlyphs" stroke="#000" stroke-width="0.3">398</text>
<text x="263.2" y="510.6" font-size="11.9" fill="#000" text-anchor="middle" textLength="20.5" lengthAdjust="spacingAndGlyphs" stroke="#000" stroke-width="0.3">396</text>
<text x="223" y="312.5" font-size="10" fill="#000" text-anchor="start" textLength="20.8" lengthAdjust="spacingAndGlyphs" stroke="#000" stroke-width="0.2">N 1s</text>
<text x="56.5" y="361.2" font-size="10.3" fill="#0b0b8c" text-anchor="start" textLength="53.8" lengthAdjust="spacingAndGlyphs" stroke="#0b0b8c" stroke-width="0.2">Graghitic N</text>
<line x1="112" y1="382.5" x2="104.71" y2="372.47" stroke="#0b0b8c" stroke-width="1.1"/>
<polygon points="100.00,366.00 107.13,370.71 102.28,374.23" fill="#0b0b8c"/>
<text x="157.8" y="336.8" font-size="10.3" fill="#7a4b46" text-anchor="start" textLength="47" lengthAdjust="spacingAndGlyphs" stroke="#7a4b46" stroke-width="0.2">Pyrrolic N</text>
<line x1="141.5" y1="372.5" x2="159.70" y2="348.20" stroke="#7a4b46" stroke-width="1.1"/>
<polygon points="164.50,341.80 162.10,350.00 157.30,346.40" fill="#7a4b46"/>
<text x="199" y="360.5" font-size="10" fill="#8a2fd6" stroke="#8a2fd6" stroke-width="0.2">Fe-N<tspan font-size="7" dy="2.6">X</tspan></text>
<line x1="178.4" y1="396" x2="196.81" y2="371.40" stroke="#8a2fd6" stroke-width="1.1"/>
<polygon points="201.60,365.00 199.21,373.20 194.40,369.61" fill="#8a2fd6"/>
<text x="205.2" y="386.8" font-size="10.3" fill="#4a7d1f" text-anchor="start" textLength="51.5" lengthAdjust="spacingAndGlyphs" stroke="#4a7d1f" stroke-width="0.2">Pyridinic N</text>
<line x1="213" y1="407" x2="222.52" y2="393.36" stroke="#4a7d1f" stroke-width="1.1"/>
<polygon points="227.10,386.80 224.98,395.08 220.06,391.64" fill="#4a7d1f"/>
<path d="M322.6,393.6 L323.1,394.4 L323.5,374.7 L323.9,378.8 L324.4,388.5 L324.8,377.8 L325.3,373.3 L325.7,373.7 L326.2,376.5 L326.6,382.8 L327.1,376.7 L327.5,391.0 L328.0,403.3 L328.4,389.7 L328.9,399.9 L329.3,389.8 L329.8,374.1 L330.2,379.6 L330.7,375.5 L331.1,391.0 L331.6,375.5 L332.0,398.3 L332.5,390.6 L332.9,367.4 L333.4,392.9 L333.8,400.3 L334.3,379.3 L334.7,391.8 L335.2,368.2 L335.6,381.9 L336.1,368.6 L336.5,384.6 L337.0,365.6 L337.4,362.8 L337.9,388.7 L338.3,404.4 L338.8,382.7 L339.2,393.6 L339.7,387.2 L340.1,382.6 L340.6,394.4 L341.0,401.2 L341.5,375.4 L341.9,391.1 L342.4,388.9 L342.8,374.0 L343.3,403.0 L343.7,405.2 L344.2,381.9 L344.6,403.1 L345.1,390.7 L345.5,388.4 L346.0,403.0 L346.4,393.7 L346.9,394.8 L347.3,405.1 L347.8,404.6 L348.2,398.7 L348.7,374.8 L349.1,374.2 L349.6,398.5 L350.0,381.9 L350.5,389.0 L350.9,379.3 L351.4,385.2 L351.8,379.7 L352.3,404.4 L352.7,382.6 L353.2,388.4 L353.6,391.3 L354.1,402.3 L354.5,379.5 L355.0,389.5 L355.4,390.9 L355.9,398.8 L356.3,398.1 L356.8,388.9 L357.2,394.5 L357.7,390.1 L358.1,397.8 L358.6,392.0 L359.0,386.3 L359.5,392.8 L359.9,400.8 L360.4,412.1 L360.8,392.2 L361.3,398.6 L361.7,406.1 L362.2,376.0 L362.6,375.6 L363.1,379.8 L363.5,394.3 L364.0,413.0 L364.4,403.0 L364.9,405.9 L365.3,389.1 L365.8,372.9 L366.2,373.7 L366.7,401.1 L367.1,394.7 L367.6,381.4 L368.0,400.9 L368.5,380.2 L368.9,404.4 L369.4,407.3 L369.8,384.6 L370.3,381.0 L370.7,398.5 L371.2,382.9 L371.6,398.4 L372.1,381.8 L372.5,399.4 L373.0,393.6 L373.4,385.8 L373.9,381.7 L374.3,390.0 L374.8,374.0 L375.2,384.6 L375.7,387.1 L376.1,396.1 L376.6,380.3 L377.0,405.4 L377.5,387.2 L377.9,378.6 L378.4,404.2 L378.8,406.3 L379.3,387.2 L379.7,377.3 L380.2,384.8 L380.6,378.1 L381.1,383.7 L381.5,401.9 L382.0,392.3 L382.4,387.2 L382.9,387.9 L383.3,384.1 L383.8,393.5 L384.2,392.8 L384.7,377.7 L385.1,385.0 L385.6,402.2 L386.0,388.1 L386.5,380.3 L386.9,398.7 L387.4,379.1 L387.8,364.2 L388.3,381.9 L388.7,364.8 L389.2,368.1 L389.6,378.8 L390.1,372.7 L390.5,363.8 L391.0,364.9 L391.4,367.5 L391.9,387.1 L392.3,365.3 L392.8,368.3 L393.2,394.6 L393.7,372.2 L394.1,392.1 L394.6,391.1 L395.0,370.2 L395.5,355.1 L395.9,377.1 L396.4,383.6 L396.8,385.8 L397.3,376.6 L397.7,388.8 L398.2,388.7 L398.6,361.1 L399.1,387.4 L399.5,374.4 L400.0,361.6 L400.4,367.8 L400.9,392.4 L401.3,383.4 L401.8,349.3 L402.2,367.0 L402.7,367.4 L403.1,365.8 L403.6,359.4 L404.0,351.8 L404.5,378.1 L404.9,358.4 L405.4,362.7 L405.8,360.9 L406.3,362.1 L406.7,382.6 L407.2,379.2 L407.6,363.9 L408.1,360.7 L408.5,369.7 L409.0,389.6 L409.4,382.4 L409.9,382.3 L410.3,375.9 L410.8,377.8 L411.2,381.7 L411.7,365.3 L412.1,400.0 L412.6,377.3 L413.0,380.2 L413.5,402.9 L413.9,393.9 L414.4,389.4 L414.8,380.4 L415.3,373.5 L415.7,393.6 L416.2,405.6 L416.6,386.4 L417.1,406.8 L417.5,382.5 L418.0,385.5 L418.4,401.0 L418.9,398.6 L419.3,404.3 L419.8,388.3 L420.2,383.1 L420.7,378.6 L421.1,382.5 L421.6,384.2 L422.0,383.9 L422.5,400.5 L422.9,390.3 L423.4,383.4 L423.8,420.5 L424.3,393.3 L424.7,388.2 L425.2,414.9 L425.6,414.5 L426.1,388.4 L426.5,384.0 L427.0,389.6 L427.4,412.3 L427.9,397.9 L428.3,391.1 L428.8,401.2 L429.2,412.3 L429.7,386.2 L430.1,391.0 L430.6,386.8 L431.0,420.2 L431.5,419.9 L431.9,412.3 L432.4,399.5 L432.8,402.5 L433.3,377.8 L433.7,394.7 L434.2,380.3 L434.6,378.8 L435.1,384.5 L435.5,390.7 L436.0,403.1 L436.4,405.0 L436.9,397.4 L437.3,383.5 L437.8,400.6 L438.2,395.0 L438.7,406.0 L439.1,378.8 L439.6,367.4 L440.0,385.0 L440.5,414.4 L440.9,402.0 L441.4,392.3 L441.8,404.5 L442.3,401.9 L442.7,399.3 L443.2,387.6 L443.6,394.3 L444.1,396.0 L444.5,384.8 L445.0,380.8 L445.4,397.4 L445.9,409.6 L446.3,407.6 L446.8,405.9 L447.2,409.6 L447.7,422.4 L448.1,408.9 L448.6,415.6 L449.0,421.5 L449.5,406.0 L449.9,407.4 L450.4,417.6 L450.8,422.4 L451.3,411.3 L451.7,409.8 L452.2,404.9 L452.6,393.6 L453.1,417.0 L453.5,402.6 L454.0,389.2 L454.4,400.2 L454.9,389.5 L455.3,394.7 L455.8,405.8 L456.2,400.1 L456.7,418.3 L457.1,395.8 L457.6,411.9 L458.0,419.7 L458.5,427.6 L458.9,423.8 L459.4,415.8 L459.8,412.9 L460.3,413.2 L460.7,423.8 L461.2,407.3 L461.6,417.6 L462.1,413.0 L462.5,415.4 L463.0,413.9 L463.4,432.1 L463.9,409.5 L464.3,416.1 L464.8,418.4 L465.2,422.0 L465.7,420.7 L466.1,421.1 L466.6,423.4 L467.0,399.1 L467.5,409.3 L467.9,400.2 L468.4,412.1 L468.8,399.1 L469.3,400.2 L469.7,412.6 L470.2,427.9 L470.6,421.5 L471.1,418.5 L471.5,425.7 L472.0,398.7 L472.4,389.2 L472.9,400.7 L473.3,407.1 L473.8,424.9 L474.2,428.5 L474.7,398.2 L475.1,428.9 L475.6,425.7 L476.0,417.6 L476.5,413.4 L476.9,425.3 L477.4,405.1 L477.8,392.8 L478.3,395.8 L478.7,379.3 L479.2,398.1 L479.6,392.5 L480.1,396.2 L480.5,393.1 L481.0,375.2 L481.4,400.6 L481.9,373.1 L482.3,390.7 L482.8,360.5 L483.2,379.8 L483.7,365.3 L484.1,373.3 L484.6,359.4 L485.0,343.4 L485.5,350.4 L485.9,370.5 L486.4,377.0 L486.8,343.5 L487.3,336.5 L487.7,347.4 L488.2,358.9 L488.6,352.6 L489.1,352.2 L489.5,380.9 L490.0,385.3 L490.4,378.9 L490.9,351.2 L491.3,364.4 L491.8,358.9 L492.2,343.7 L492.7,378.2 L493.1,368.0 L493.6,359.6 L494.0,388.1 L494.5,382.5 L494.9,382.6 L495.4,385.7 L495.8,374.2 L496.3,337.7 L496.7,349.6 L497.2,372.6 L497.6,342.2 L498.1,352.8 L498.5,363.7 L499.0,379.4 L499.4,378.0 L499.9,369.4 L500.3,350.0 L500.8,368.2 L501.2,362.6 L501.7,352.0 L502.1,376.7 L502.6,363.0 L503.0,340.3 L503.5,373.8 L503.9,352.7 L504.4,362.2 L504.8,331.5 L505.3,354.6 L505.7,346.4 L506.2,348.1 L506.6,349.6 L507.1,410.0 L507.5,391.1 L508.0,399.6 L508.4,415.5 L508.9,404.2 L509.3,411.6 L509.8,392.3 L510.2,412.5 L510.7,410.9 L511.1,424.8 L511.6,420.8 L512.0,401.9 L512.5,399.7 L512.9,409.4 L513.4,434.9 L513.8,435.0 L514.3,430.7 L514.7,405.6 L515.2,403.9 L515.6,417.2 L516.1,424.1 L516.5,423.2 L517.0,434.7 L517.4,427.4 L517.9,415.0 L518.3,417.8 L518.8,430.9 L519.2,431.1 L519.7,432.7 L520.1,451.7 L520.6,428.8 L521.0,426.6 L521.5,413.2 L521.9,420.6 L522.4,434.3 L522.8,435.5 L523.3,427.2 L523.7,433.9 L524.2,427.7 L524.6,407.8 L525.1,406.5 L525.5,455.3 L526.0,449.9 L526.4,435.3 L526.9,419.5 L527.3,425.7 L527.8,452.3 L528.2,421.5 L528.7,438.3 L529.1,456.7 L529.6,452.5 L530.0,458.2 L530.5,454.1 L530.9,471.2 L531.4,442.8 L531.8,438.9 L532.3,457.8 L532.7,469.9 L533.2,459.4 L533.6,467.3 L534.1,451.6 L534.5,447.3 L535.0,473.0 L535.4,476.7 L535.9,475.6 L536.3,456.6 L536.8,448.1 L537.2,448.8 L537.7,459.1 L538.1,469.4 L538.6,467.5 L539.0,451.1 L539.5,464.3 L539.9,465.2" fill="none" stroke="#c9c9c9" stroke-width="0.9" stroke-linejoin="round" stroke-linecap="round" />
<path d="M322.1,404.8 L322.5,404.8 L322.9,404.9 L323.3,404.9 L323.7,404.9 L324.1,404.9 L324.5,404.9 L324.9,404.9 L325.3,405.0 L325.7,405.0 L326.1,405.0 L326.5,405.0 L326.9,405.0 L327.3,405.1 L327.7,405.1 L328.1,405.1 L328.5,405.1 L328.9,405.1 L329.3,405.2 L329.7,405.2 L330.1,405.2 L330.5,405.2 L330.9,405.2 L331.3,405.3 L331.7,405.3 L332.1,405.3 L332.5,405.3 L332.9,405.4 L333.3,405.4 L333.7,405.4 L334.1,405.4 L334.5,405.5 L334.9,405.5 L335.3,405.5 L335.7,405.5 L336.1,405.6 L336.5,405.6 L336.9,405.6 L337.3,405.6 L337.7,405.7 L338.1,405.7 L338.5,405.7 L338.9,405.8 L339.3,405.8 L339.7,405.8 L340.1,405.8 L340.5,405.9 L340.9,405.9 L341.3,405.9 L341.7,405.9 L342.1,406.0 L342.5,406.0 L342.9,406.0 L343.3,406.1 L343.7,406.1 L344.1,406.1 L344.5,406.2 L344.9,406.2 L345.3,406.2 L345.7,406.2 L346.1,406.3 L346.5,406.3 L346.9,406.3 L347.3,406.4 L347.7,406.4 L348.1,406.4 L348.5,406.5 L348.9,406.5 L349.3,406.6 L349.7,406.6 L350.1,406.6 L350.5,406.7 L350.9,406.7 L351.3,406.7 L351.7,406.8 L352.1,406.8 L352.5,406.9 L352.9,406.9 L353.3,406.9 L353.7,407.0 L354.1,407.0 L354.5,407.1 L354.9,407.1 L355.3,407.1 L355.7,407.2 L356.1,407.2 L356.5,407.3 L356.9,407.3 L357.3,407.4 L357.7,407.4 L358.1,407.5 L358.5,407.5 L358.9,407.5 L359.3,407.6 L359.7,407.6 L360.1,407.7 L360.5,407.7 L360.9,407.8 L361.3,407.8 L361.7,407.9 L362.1,407.9 L362.5,408.0 L362.9,408.0 L363.3,408.1 L363.7,408.1 L364.1,408.2 L364.5,408.2 L364.9,408.3 L365.3,408.3 L365.7,408.4 L366.1,408.4 L366.5,408.5 L366.9,408.5 L367.3,408.6 L367.7,408.7 L368.1,408.7 L368.5,408.8 L368.9,408.8 L369.3,408.9 L369.7,408.9 L370.1,409.0 L370.5,409.0 L370.9,409.1 L371.3,409.2 L371.7,409.2 L372.1,409.3 L372.5,409.4 L372.9,409.4 L373.3,409.5 L373.7,409.5 L374.1,409.6 L374.5,409.7 L374.9,409.7 L375.3,409.8 L375.7,409.9 L376.1,409.9 L376.5,410.0 L376.9,410.1 L377.3,410.2 L377.7,410.2 L378.1,410.3 L378.5,410.4 L378.9,410.5 L379.3,410.5 L379.7,410.6 L380.1,410.7 L380.5,410.8 L380.9,410.9 L381.3,411.0 L381.7,411.0 L382.1,411.1 L382.5,411.2 L382.9,411.3 L383.3,411.4 L383.7,411.5 L384.1,411.6 L384.5,411.7 L384.9,411.8 L385.3,411.9 L385.7,412.0 L386.1,412.2 L386.5,412.3 L386.9,412.4 L387.3,412.5 L387.7,412.6 L388.1,412.7 L388.5,412.9 L388.9,413.0 L389.3,413.1 L389.7,413.2 L390.1,413.4 L390.5,413.5 L390.9,413.6 L391.3,413.7 L391.7,413.9 L392.1,414.0 L392.5,414.1 L392.9,414.3 L393.3,414.4 L393.7,414.5 L394.1,414.7 L394.5,414.8 L394.9,414.9 L395.3,415.1 L395.7,415.2 L396.1,415.4 L396.5,415.5 L396.9,415.6 L397.3,415.8 L397.7,415.9 L398.1,416.0 L398.5,416.2 L398.9,416.3 L399.3,416.4 L399.7,416.6 L400.1,416.7 L400.5,416.8 L400.9,417.0 L401.3,417.1 L401.7,417.2 L402.1,417.4 L402.5,417.5 L402.9,417.6 L403.3,417.8 L403.7,417.9 L404.1,418.0 L404.5,418.2 L404.9,418.3 L405.3,418.5 L405.7,418.6 L406.1,418.7 L406.5,418.9 L406.9,419.0 L407.3,419.2 L407.7,419.3 L408.1,419.5 L408.5,419.6 L408.9,419.8 L409.3,419.9 L409.7,420.0 L410.1,420.2 L410.5,420.3 L410.9,420.5 L411.3,420.6 L411.7,420.8 L412.1,420.9 L412.5,421.1 L412.9,421.2 L413.3,421.3 L413.7,421.5 L414.1,421.6 L414.5,421.8 L414.9,421.9 L415.3,422.0 L415.7,422.2 L416.1,422.3 L416.5,422.5 L416.9,422.6 L417.3,422.7 L417.7,422.9 L418.1,423.0 L418.5,423.1 L418.9,423.2 L419.3,423.4 L419.7,423.5 L420.1,423.6 L420.5,423.7 L420.9,423.9 L421.3,424.0 L421.7,424.1 L422.1,424.2 L422.5,424.3 L422.9,424.4 L423.3,424.5 L423.7,424.7 L424.1,424.8 L424.5,424.9 L424.9,425.0 L425.3,425.1 L425.7,425.2 L426.1,425.3 L426.5,425.4 L426.9,425.5 L427.3,425.6 L427.7,425.7 L428.1,425.9 L428.5,426.0 L428.9,426.1 L429.3,426.2 L429.7,426.3 L430.1,426.4 L430.5,426.5 L430.9,426.6 L431.3,426.7 L431.7,426.8 L432.1,426.9 L432.5,427.0 L432.9,427.1 L433.3,427.2 L433.7,427.3 L434.1,427.4 L434.5,427.5 L434.9,427.6 L435.3,427.7 L435.7,427.8 L436.1,427.9 L436.5,428.0 L436.9,428.1 L437.3,428.2 L437.7,428.4 L438.1,428.5 L438.5,428.6 L438.9,428.7 L439.3,428.8 L439.7,428.9 L440.1,429.0 L440.5,429.1 L440.9,429.2 L441.3,429.3 L441.7,429.4 L442.1,429.6 L442.5,429.7 L442.9,429.8 L443.3,429.9 L443.7,430.0 L444.1,430.1 L444.5,430.2 L444.9,430.4 L445.3,430.5 L445.7,430.6 L446.1,430.7 L446.5,430.8 L446.9,430.9 L447.3,431.0 L447.7,431.1 L448.1,431.3 L448.5,431.4 L448.9,431.5 L449.3,431.6 L449.7,431.7 L450.1,431.8 L450.5,431.9 L450.9,432.1 L451.3,432.2 L451.7,432.3 L452.1,432.4 L452.5,432.5 L452.9,432.6 L453.3,432.7 L453.7,432.8 L454.1,433.0 L454.5,433.1 L454.9,433.2 L455.3,433.3 L455.7,433.4 L456.1,433.5 L456.5,433.6 L456.9,433.8 L457.3,433.9 L457.7,434.0 L458.1,434.1 L458.5,434.2 L458.9,434.3 L459.3,434.4 L459.7,434.6 L460.1,434.7 L460.5,434.8 L460.9,434.9 L461.3,435.0 L461.7,435.1 L462.1,435.2 L462.5,435.3 L462.9,435.4 L463.3,435.6 L463.7,435.7 L464.1,435.8 L464.5,435.9 L464.9,436.0 L465.3,436.1 L465.7,436.2 L466.1,436.3 L466.5,436.4 L466.9,436.5 L467.3,436.6 L467.7,436.7 L468.1,436.8 L468.5,436.9 L468.9,436.9 L469.3,437.0 L469.7,437.1 L470.1,437.2 L470.5,437.3 L470.9,437.4 L471.3,437.4 L471.7,437.5 L472.1,437.6 L472.5,437.7 L472.9,437.8 L473.3,437.8 L473.7,437.9 L474.1,438.0 L474.5,438.1 L474.9,438.2 L475.3,438.3 L475.7,438.4 L476.1,438.5 L476.5,438.6 L476.9,438.7 L477.3,438.8 L477.7,438.9 L478.1,439.0 L478.5,439.1 L478.9,439.2 L479.3,439.4 L479.7,439.5 L480.1,439.6 L480.5,439.8 L480.9,439.9 L481.3,440.1 L481.7,440.3 L482.1,440.5 L482.5,440.7 L482.9,440.9 L483.3,441.1 L483.7,441.3 L484.1,441.6 L484.5,441.8 L484.9,442.0 L485.3,442.3 L485.7,442.5 L486.1,442.8 L486.5,443.0 L486.9,443.3 L487.3,443.5 L487.7,443.8 L488.1,444.1 L488.5,444.4 L488.9,444.7 L489.3,445.0 L489.7,445.3 L490.1,445.6 L490.5,445.9 L490.9,446.2 L491.3,446.6 L491.7,447.0 L492.1,447.3 L492.5,447.7 L492.9,448.1 L493.3,448.5 L493.7,448.9 L494.1,449.4 L494.5,449.8 L494.9,450.2 L495.3,450.6 L495.7,451.1 L496.1,451.5 L496.5,451.9 L496.9,452.4 L497.3,452.8 L497.7,453.2 L498.1,453.6 L498.5,454.0 L498.9,454.5 L499.3,454.9 L499.7,455.3 L500.1,455.8 L500.5,456.2 L500.9,456.7 L501.3,457.1 L501.7,457.6 L502.1,458.0 L502.5,458.5 L502.9,458.9 L503.3,459.4 L503.7,459.8 L504.1,460.2 L504.5,460.6 L504.9,461.0 L505.3,461.4 L505.7,461.7 L506.1,462.0 L506.5,462.3 L506.9,462.5 L507.3,462.7 L507.7,462.9 L508.1,463.0 L508.5,463.1 L508.9,463.2 L509.3,463.1 L509.7,463.1 L510.1,462.9 L510.5,462.8 L510.9,462.6 L511.3,462.3 L511.7,462.0 L512.1,461.7 L512.5,461.2 L512.9,460.8 L513.3,460.2 L513.7,459.6 L514.1,459.0 L514.5,458.3 L514.9,457.6 L515.3,456.8 L515.7,456.0 L516.1,455.1 L516.5,454.2 L516.9,453.3 L517.3,452.4 L517.7,451.5 L518.1,450.5 L518.5,449.7 L518.9,448.8 L519.3,448.0 L519.7,447.3 L520.1,446.6 L520.5,446.0 L520.9,445.5 L521.3,445.1 L521.7,444.8 L522.1,444.7 L522.5,444.7 L522.9,444.8 L523.3,445.0 L523.7,445.4 L524.1,445.9 L524.5,446.5 L524.9,447.3 L525.3,448.1 L525.7,449.0 L526.1,450.0 L526.5,451.0 L526.9,452.1 L527.3,453.2 L527.7,454.3 L528.1,455.5 L528.5,456.6 L528.9,457.8 L529.3,458.9 L529.7,460.0 L530.1,461.1 L530.5,462.1 L530.9,463.1 L531.3,464.1 L531.7,465.0 L532.1,465.8 L532.5,466.6 L532.9,467.3 L533.3,468.0 L533.7,468.6 L534.1,469.2 L534.5,469.8 L534.9,470.3 L535.3,470.7 L535.7,471.1 L536.1,471.5 L536.5,471.8 L536.9,472.1 L537.3,472.4 L537.7,472.6 L538.1,472.9 L538.5,473.1 L538.9,473.3 L539.3,473.4 L539.7,473.6 L540.1,473.7" fill="none" stroke="#b1602c" stroke-width="2.5" stroke-linejoin="round" stroke-linecap="round" />
<path d="M322.1,403.7 L322.5,403.7 L322.9,403.7 L323.3,403.7 L323.7,403.7 L324.1,403.7 L324.5,403.7 L324.9,403.8 L325.3,403.8 L325.7,403.8 L326.1,403.8 L326.5,403.8 L326.9,403.8 L327.3,403.8 L327.7,403.9 L328.1,403.9 L328.5,403.9 L328.9,403.9 L329.3,403.9 L329.7,403.9 L330.1,404.0 L330.5,404.0 L330.9,404.0 L331.3,404.0 L331.7,404.0 L332.1,404.1 L332.5,404.1 L332.9,404.1 L333.3,404.1 L333.7,404.1 L334.1,404.2 L334.5,404.2 L334.9,404.2 L335.3,404.2 L335.7,404.3 L336.1,404.3 L336.5,404.3 L336.9,404.3 L337.3,404.3 L337.7,404.4 L338.1,404.4 L338.5,404.4 L338.9,404.4 L339.3,404.5 L339.7,404.5 L340.1,404.5 L340.5,404.5 L340.9,404.6 L341.3,404.6 L341.7,404.6 L342.1,404.6 L342.5,404.7 L342.9,404.7 L343.3,404.7 L343.7,404.7 L344.1,404.8 L344.5,404.8 L344.9,404.8 L345.3,404.8 L345.7,404.9 L346.1,404.9 L346.5,404.9 L346.9,404.9 L347.3,405.0 L347.7,405.0 L348.1,405.0 L348.5,405.1 L348.9,405.1 L349.3,405.1 L349.7,405.1 L350.1,405.2 L350.5,405.2 L350.9,405.2 L351.3,405.3 L351.7,405.3 L352.1,405.3 L352.5,405.4 L352.9,405.4 L353.3,405.4 L353.7,405.5 L354.1,405.5 L354.5,405.6 L354.9,405.6 L355.3,405.6 L355.7,405.7 L356.1,405.7 L356.5,405.7 L356.9,405.8 L357.3,405.8 L357.7,405.8 L358.1,405.9 L358.5,405.9 L358.9,406.0 L359.3,406.0 L359.7,406.0 L360.1,406.1 L360.5,406.1 L360.9,406.2 L361.3,406.2 L361.7,406.2 L362.1,406.3 L362.5,406.3 L362.9,406.4 L363.3,406.4 L363.7,406.4 L364.1,406.5 L364.5,406.5 L364.9,406.6 L365.3,406.6 L365.7,406.6 L366.1,406.7 L366.5,406.7 L366.9,406.8 L367.3,406.8 L367.7,406.8 L368.1,406.9 L368.5,406.9 L368.9,407.0 L369.3,407.0 L369.7,407.1 L370.1,407.1 L370.5,407.1 L370.9,407.2 L371.3,407.2 L371.7,407.3 L372.1,407.3 L372.5,407.4 L372.9,407.4 L373.3,407.4 L373.7,407.5 L374.1,407.5 L374.5,407.6 L374.9,407.6 L375.3,407.6 L375.7,407.7 L376.1,407.7 L376.5,407.7 L376.9,407.8 L377.3,407.8 L377.7,407.8 L378.1,407.8 L378.5,407.9 L378.9,407.9 L379.3,407.9 L379.7,407.9 L380.1,407.9 L380.5,407.9 L380.9,407.9 L381.3,407.9 L381.7,407.8 L382.1,407.8 L382.5,407.7 L382.9,407.7 L383.3,407.6 L383.7,407.5 L384.1,407.4 L384.5,407.3 L384.9,407.2 L385.3,407.1 L385.7,406.9 L386.1,406.7 L386.5,406.5 L386.9,406.3 L387.3,406.0 L387.7,405.8 L388.1,405.5 L388.5,405.1 L388.9,404.8 L389.3,404.4 L389.7,404.0 L390.1,403.6 L390.5,403.1 L390.9,402.6 L391.3,402.1 L391.7,401.6 L392.1,401.0 L392.5,400.4 L392.9,399.8 L393.3,399.2 L393.7,398.5 L394.1,397.8 L394.5,397.1 L394.9,396.4 L395.3,395.7 L395.7,395.0 L396.1,394.3 L396.5,393.6 L396.9,392.9 L397.3,392.2 L397.7,391.5 L398.1,390.9 L398.5,390.2 L398.9,389.6 L399.3,389.1 L399.7,388.5 L400.1,388.1 L400.5,387.7 L400.9,387.3 L401.3,387.0 L401.7,386.8 L402.1,386.7 L402.5,386.6 L402.9,386.6 L403.3,386.7 L403.7,386.9 L404.1,387.1 L404.5,387.5 L404.9,387.9 L405.3,388.4 L405.7,388.9 L406.1,389.5 L406.5,390.2 L406.9,390.9 L407.3,391.7 L407.7,392.6 L408.1,393.4 L408.5,394.3 L408.9,395.3 L409.3,396.2 L409.7,397.2 L410.1,398.2 L410.5,399.2 L410.9,400.1 L411.3,401.1 L411.7,402.1 L412.1,403.1 L412.5,404.0 L412.9,405.0 L413.3,405.9 L413.7,406.8 L414.1,407.7 L414.5,408.6 L414.9,409.4 L415.3,410.2 L415.7,411.0 L416.1,411.7 L416.5,412.4 L416.9,413.1 L417.3,413.8 L417.7,414.4 L418.1,415.0 L418.5,415.6 L418.9,416.1 L419.3,416.6 L419.7,417.1 L420.1,417.6 L420.5,418.0 L420.9,418.4 L421.3,418.8 L421.7,419.1 L422.1,419.5 L422.5,419.8 L422.9,420.1 L423.3,420.4 L423.7,420.7 L424.1,420.9 L424.5,421.1 L424.9,421.4 L425.3,421.6 L425.7,421.8 L426.1,422.0 L426.5,422.2 L426.9,422.4 L427.3,422.5 L427.7,422.7 L428.1,422.9 L428.5,423.0 L428.9,423.2 L429.3,423.3 L429.7,423.4 L430.1,423.6 L430.5,423.7 L430.9,423.8 L431.3,424.0 L431.7,424.1 L432.1,424.2 L432.5,424.3 L432.9,424.4 L433.3,424.6 L433.7,424.7 L434.1,424.8 L434.5,424.9 L434.9,425.0 L435.3,425.1 L435.7,425.2 L436.1,425.4 L436.5,425.5 L436.9,425.6 L437.3,425.7 L437.7,425.8 L438.1,425.9 L438.5,426.0 L438.9,426.1 L439.3,426.2 L439.7,426.4 L440.1,426.5 L440.5,426.6 L440.9,426.6 L441.3,426.7 L441.7,426.8 L442.1,426.9 L442.5,427.0 L442.9,427.1 L443.3,427.2 L443.7,427.3 L444.1,427.4 L444.5,427.5 L444.9,427.6 L445.3,427.6 L445.7,427.7 L446.1,427.8 L446.5,427.9 L446.9,428.0 L447.3,428.1 L447.7,428.2 L448.1,428.3 L448.5,428.4 L448.9,428.4 L449.3,428.5 L449.7,428.6 L450.1,428.7 L450.5,428.8 L450.9,428.9 L451.3,429.0 L451.7,429.0 L452.1,429.1 L452.5,429.2 L452.9,429.3 L453.3,429.4 L453.7,429.5 L454.1,429.5 L454.5,429.6 L454.9,429.7 L455.3,429.8 L455.7,429.9 L456.1,429.9 L456.5,430.0 L456.9,430.1 L457.3,430.2 L457.7,430.2 L458.1,430.3 L458.5,430.4 L458.9,430.5 L459.3,430.5 L459.7,430.6 L460.1,430.7 L460.5,430.8 L460.9,430.8 L461.3,430.9 L461.7,431.0 L462.1,431.0 L462.5,431.1 L462.9,431.2 L463.3,431.2 L463.7,431.3 L464.1,431.3 L464.5,431.4 L464.9,431.4 L465.3,431.5 L465.7,431.5 L466.1,431.6 L466.5,431.6 L466.9,431.7 L467.3,431.7 L467.7,431.7 L468.1,431.8 L468.5,431.8 L468.9,431.8 L469.3,431.8 L469.7,431.8 L470.1,431.8 L470.5,431.9 L470.9,431.9 L471.3,432.0 L471.7,432.0 L472.1,432.1 L472.5,432.1 L472.9,432.1 L473.3,432.1 L473.7,432.2 L474.1,432.2 L474.5,432.2 L474.9,432.2 L475.3,432.2 L475.7,432.2 L476.1,432.2 L476.5,432.2 L476.9,432.2 L477.3,432.2 L477.7,432.2 L478.1,432.1 L478.5,432.1 L478.9,432.0 L479.3,431.9 L479.7,431.8 L480.1,431.7 L480.5,431.6 L480.9,431.5 L481.3,431.3 L481.7,431.1 L482.1,430.9 L482.5,430.7 L482.9,430.4 L483.3,430.1 L483.7,429.7 L484.1,429.3 L484.5,428.8 L484.9,428.3 L485.3,427.7 L485.7,427.0 L486.1,426.3 L486.5,425.4 L486.9,424.5 L487.3,423.5 L487.7,422.5 L488.1,421.3 L488.5,420.1 L488.9,418.7 L489.3,417.3 L489.7,415.8 L490.1,414.1 L490.5,412.4 L490.9,410.6 L491.3,408.8 L491.7,406.8 L492.1,404.8 L492.5,402.8 L492.9,400.7 L493.3,398.5 L493.7,396.3 L494.1,394.1 L494.5,391.9 L494.9,389.7 L495.3,387.6 L495.7,385.5 L496.1,383.4 L496.5,381.5 L496.9,379.7 L497.3,378.0 L497.7,376.5 L498.1,375.2 L498.5,374.1 L498.9,373.3 L499.3,372.8 L499.7,372.5 L500.1,372.6 L500.5,373.0 L500.9,373.7 L501.3,374.8 L501.7,376.1 L502.1,377.7 L502.5,379.6 L502.9,381.7 L503.3,384.1 L503.7,386.6 L504.1,389.2 L504.5,392.1 L504.9,395.0 L505.3,397.9 L505.7,400.9 L506.1,404.0 L506.5,407.0 L506.9,410.1 L507.3,413.1 L507.7,416.0 L508.1,418.9 L508.5,421.7 L508.9,424.4 L509.3,427.0 L509.7,429.5 L510.1,431.9 L510.5,434.2 L510.9,436.4 L511.3,438.6 L511.7,440.6 L512.1,442.5 L512.5,444.3 L512.9,446.0 L513.3,447.6 L513.7,449.1 L514.1,450.5 L514.5,451.8 L514.9,453.0 L515.3,454.1 L515.7,455.2 L516.1,456.2 L516.5,457.1 L516.9,457.9 L517.3,458.7 L517.7,459.4 L518.1,460.1 L518.5,460.7 L518.9,461.3 L519.3,461.8 L519.7,462.3 L520.1,462.8 L520.5,463.2 L520.9,463.7 L521.3,464.0 L521.7,464.4 L522.1,464.8 L522.5,465.1 L522.9,465.4 L523.3,465.7 L523.7,466.0 L524.1,466.2 L524.5,466.5 L524.9,466.8 L525.3,467.0 L525.7,467.2 L526.1,467.5 L526.5,467.7 L526.9,467.9 L527.3,468.1 L527.7,468.3 L528.1,468.5 L528.5,468.7 L528.9,468.9 L529.3,469.1 L529.7,469.3 L530.1,469.5 L530.5,469.6 L530.9,469.8 L531.3,470.0 L531.7,470.1 L532.1,470.3 L532.5,470.5 L532.9,470.6 L533.3,470.8 L533.7,470.9 L534.1,471.1 L534.5,471.2 L534.9,471.4 L535.3,471.5 L535.7,471.6 L536.1,471.8 L536.5,471.9 L536.9,472.1 L537.3,472.2 L537.7,472.3 L538.1,472.4 L538.5,472.6 L538.9,472.7 L539.3,472.8 L539.7,472.9 L540.1,473.0" fill="none" stroke="#4a7d1f" stroke-width="2.3" stroke-linejoin="round" stroke-linecap="round" />
<path d="M322.1,404.3 L322.5,404.3 L322.9,404.3 L323.3,404.3 L323.7,404.4 L324.1,404.4 L324.5,404.4 L324.9,404.4 L325.3,404.4 L325.7,404.4 L326.1,404.4 L326.5,404.4 L326.9,404.4 L327.3,404.4 L327.7,404.5 L328.1,404.5 L328.5,404.5 L328.9,404.5 L329.3,404.5 L329.7,404.5 L330.1,404.5 L330.5,404.6 L330.9,404.6 L331.3,404.6 L331.7,404.6 L332.1,404.6 L332.5,404.6 L332.9,404.7 L333.3,404.7 L333.7,404.7 L334.1,404.7 L334.5,404.7 L334.9,404.7 L335.3,404.8 L335.7,404.8 L336.1,404.8 L336.5,404.8 L336.9,404.8 L337.3,404.8 L337.7,404.9 L338.1,404.9 L338.5,404.9 L338.9,404.9 L339.3,404.9 L339.7,405.0 L340.1,405.0 L340.5,405.0 L340.9,405.0 L341.3,405.0 L341.7,405.1 L342.1,405.1 L342.5,405.1 L342.9,405.1 L343.3,405.1 L343.7,405.2 L344.1,405.2 L344.5,405.2 L344.9,405.2 L345.3,405.3 L345.7,405.3 L346.1,405.3 L346.5,405.3 L346.9,405.3 L347.3,405.4 L347.7,405.4 L348.1,405.4 L348.5,405.4 L348.9,405.5 L349.3,405.5 L349.7,405.5 L350.1,405.5 L350.5,405.6 L350.9,405.6 L351.3,405.6 L351.7,405.7 L352.1,405.7 L352.5,405.7 L352.9,405.7 L353.3,405.8 L353.7,405.8 L354.1,405.8 L354.5,405.9 L354.9,405.9 L355.3,405.9 L355.7,406.0 L356.1,406.0 L356.5,406.0 L356.9,406.0 L357.3,406.1 L357.7,406.1 L358.1,406.1 L358.5,406.2 L358.9,406.2 L359.3,406.2 L359.7,406.3 L360.1,406.3 L360.5,406.3 L360.9,406.3 L361.3,406.4 L361.7,406.4 L362.1,406.4 L362.5,406.4 L362.9,406.4 L363.3,406.4 L363.7,406.4 L364.1,406.5 L364.5,406.5 L364.9,406.5 L365.3,406.5 L365.7,406.5 L366.1,406.4 L366.5,406.4 L366.9,406.4 L367.3,406.4 L367.7,406.3 L368.1,406.3 L368.5,406.2 L368.9,406.2 L369.3,406.1 L369.7,406.0 L370.1,406.0 L370.5,405.9 L370.9,405.8 L371.3,405.6 L371.7,405.5 L372.1,405.4 L372.5,405.2 L372.9,405.0 L373.3,404.8 L373.7,404.6 L374.1,404.4 L374.5,404.2 L374.9,403.9 L375.3,403.6 L375.7,403.4 L376.1,403.1 L376.5,402.7 L376.9,402.4 L377.3,402.1 L377.7,401.7 L378.1,401.3 L378.5,400.9 L378.9,400.5 L379.3,400.1 L379.7,399.7 L380.1,399.3 L380.5,398.9 L380.9,398.5 L381.3,398.1 L381.7,397.6 L382.1,397.2 L382.5,396.8 L382.9,396.5 L383.3,396.1 L383.7,395.7 L384.1,395.4 L384.5,395.1 L384.9,394.8 L385.3,394.6 L385.7,394.4 L386.1,394.2 L386.5,394.1 L386.9,394.0 L387.3,393.9 L387.7,393.9 L388.1,394.0 L388.5,394.1 L388.9,394.2 L389.3,394.4 L389.7,394.6 L390.1,394.9 L390.5,395.2 L390.9,395.5 L391.3,395.9 L391.7,396.4 L392.1,396.8 L392.5,397.3 L392.9,397.8 L393.3,398.4 L393.7,398.9 L394.1,399.5 L394.5,400.1 L394.9,400.7 L395.3,401.3 L395.7,401.9 L396.1,402.5 L396.5,403.2 L396.9,403.8 L397.3,404.4 L397.7,405.0 L398.1,405.6 L398.5,406.2 L398.9,406.7 L399.3,407.3 L399.7,407.8 L400.1,408.4 L400.5,408.9 L400.9,409.4 L401.3,409.9 L401.7,410.3 L402.1,410.8 L402.5,411.2 L402.9,411.6 L403.3,412.0 L403.7,412.4 L404.1,412.8 L404.5,413.1 L404.9,413.5 L405.3,413.8 L405.7,414.1 L406.1,414.4 L406.5,414.7 L406.9,415.0 L407.3,415.3 L407.7,415.5 L408.1,415.8 L408.5,416.0 L408.9,416.2 L409.3,416.4 L409.7,416.7 L410.1,416.9 L410.5,417.1 L410.9,417.3 L411.3,417.4 L411.7,417.6 L412.1,417.8 L412.5,418.0 L412.9,418.1 L413.3,418.3 L413.7,418.5 L414.1,418.6 L414.5,418.8 L414.9,418.9 L415.3,419.1 L415.7,419.2 L416.1,419.4 L416.5,419.5 L416.9,419.6 L417.3,419.8 L417.7,419.9 L418.1,420.0 L418.5,420.1 L418.9,420.3 L419.3,420.4 L419.7,420.5 L420.1,420.6 L420.5,420.7 L420.9,420.9 L421.3,421.0 L421.7,421.1 L422.1,421.2 L422.5,421.3 L422.9,421.4 L423.3,421.5 L423.7,421.6 L424.1,421.7 L424.5,421.8 L424.9,421.9 L425.3,422.0 L425.7,422.1 L426.1,422.2 L426.5,422.3 L426.9,422.4 L427.3,422.5 L427.7,422.6 L428.1,422.7 L428.5,422.8 L428.9,422.9 L429.3,423.0 L429.7,423.1 L430.1,423.2 L430.5,423.2 L430.9,423.3 L431.3,423.4 L431.7,423.5 L432.1,423.6 L432.5,423.7 L432.9,423.8 L433.3,423.9 L433.7,424.0 L434.1,424.1 L434.5,424.1 L434.9,424.2 L435.3,424.3 L435.7,424.4 L436.1,424.5 L436.5,424.6 L436.9,424.7 L437.3,424.8 L437.7,424.9 L438.1,425.0 L438.5,425.1 L438.9,425.1 L439.3,425.2 L439.7,425.3 L440.1,425.4 L440.5,425.5 L440.9,425.6 L441.3,425.7 L441.7,425.8 L442.1,425.9 L442.5,426.0 L442.9,426.1 L443.3,426.2 L443.7,426.3 L444.1,426.4 L444.5,426.5 L444.9,426.6 L445.3,426.7 L445.7,426.7 L446.1,426.8 L446.5,426.9 L446.9,427.0 L447.3,427.1 L447.7,427.2 L448.1,427.3 L448.5,427.4 L448.9,427.5 L449.3,427.6 L449.7,427.7 L450.1,427.8 L450.5,427.8 L450.9,427.9 L451.3,428.0 L451.7,428.1 L452.1,428.2 L452.5,428.3 L452.9,428.4 L453.3,428.5 L453.7,428.5 L454.1,428.6 L454.5,428.7 L454.9,428.8 L455.3,428.9 L455.7,429.0 L456.1,429.1 L456.5,429.2 L456.9,429.2 L457.3,429.3 L457.7,429.4 L458.1,429.5 L458.5,429.6 L458.9,429.7 L459.3,429.7 L459.7,429.8 L460.1,429.9 L460.5,429.9 L460.9,430.0 L461.3,430.0 L461.7,430.1 L462.1,430.1 L462.5,430.2 L462.9,430.2 L463.3,430.2 L463.7,430.2 L464.1,430.2 L464.5,430.2 L464.9,430.2 L465.3,430.1 L465.7,430.0 L466.1,429.9 L466.5,429.8 L466.9,429.7 L467.3,429.5 L467.7,429.4 L468.1,429.1 L468.5,428.9 L468.9,428.6 L469.3,428.3 L469.7,427.9 L470.1,427.5 L470.5,427.1 L470.9,426.6 L471.3,426.1 L471.7,425.5 L472.1,424.9 L472.5,424.3 L472.9,423.6 L473.3,422.8 L473.7,422.0 L474.1,421.1 L474.5,420.2 L474.9,419.2 L475.3,418.2 L475.7,417.1 L476.1,416.0 L476.5,414.8 L476.9,413.6 L477.3,412.4 L477.7,411.1 L478.1,409.8 L478.5,408.5 L478.9,407.2 L479.3,405.9 L479.7,404.6 L480.1,403.3 L480.5,402.0 L480.9,400.8 L481.3,399.6 L481.7,398.5 L482.1,397.4 L482.5,396.4 L482.9,395.6 L483.3,394.8 L483.7,394.1 L484.1,393.6 L484.5,393.1 L484.9,392.8 L485.3,392.7 L485.7,392.7 L486.1,392.9 L486.5,393.2 L486.9,393.6 L487.3,394.3 L487.7,395.0 L488.1,395.9 L488.5,397.0 L488.9,398.2 L489.3,399.5 L489.7,400.9 L490.1,402.4 L490.5,404.0 L490.9,405.6 L491.3,407.4 L491.7,409.1 L492.1,411.0 L492.5,412.8 L492.9,414.7 L493.3,416.6 L493.7,418.6 L494.1,420.5 L494.5,422.4 L494.9,424.2 L495.3,426.1 L495.7,427.9 L496.1,429.6 L496.5,431.4 L496.9,433.0 L497.3,434.7 L497.7,436.2 L498.1,437.7 L498.5,439.2 L498.9,440.6 L499.3,442.0 L499.7,443.3 L500.1,444.6 L500.5,445.8 L500.9,447.0 L501.3,448.1 L501.7,449.2 L502.1,450.3 L502.5,451.3 L502.9,452.2 L503.3,453.2 L503.7,454.0 L504.1,454.9 L504.5,455.7 L504.9,456.4 L505.3,457.1 L505.7,457.8 L506.1,458.5 L506.5,459.1 L506.9,459.7 L507.3,460.2 L507.7,460.7 L508.1,461.1 L508.5,461.6 L508.9,462.0 L509.3,462.3 L509.7,462.6 L510.1,463.0 L510.5,463.3 L510.9,463.6 L511.3,463.8 L511.7,464.1 L512.1,464.4 L512.5,464.6 L512.9,464.9 L513.3,465.1 L513.7,465.3 L514.1,465.6 L514.5,465.8 L514.9,466.0 L515.3,466.2 L515.7,466.4 L516.1,466.6 L516.5,466.8 L516.9,467.0 L517.3,467.1 L517.7,467.3 L518.1,467.5 L518.5,467.7 L518.9,467.8 L519.3,468.0 L519.7,468.2 L520.1,468.3 L520.5,468.5 L520.9,468.7 L521.3,468.8 L521.7,469.0 L522.1,469.1 L522.5,469.3 L522.9,469.5 L523.3,469.6 L523.7,469.8 L524.1,469.9 L524.5,470.1 L524.9,470.2 L525.3,470.4 L525.7,470.5 L526.1,470.7 L526.5,470.9 L526.9,471.0 L527.3,471.2 L527.7,471.3 L528.1,471.4 L528.5,471.6 L528.9,471.7 L529.3,471.9 L529.7,472.0 L530.1,472.2 L530.5,472.3 L530.9,472.4 L531.3,472.6 L531.7,472.7 L532.1,472.8 L532.5,473.0 L532.9,473.1 L533.3,473.2 L533.7,473.4 L534.1,473.5 L534.5,473.6 L534.9,473.8 L535.3,473.9 L535.7,474.0 L536.1,474.1 L536.5,474.2 L536.9,474.4 L537.3,474.5 L537.7,474.6 L538.1,474.7 L538.5,474.8 L538.9,474.9 L539.3,475.0 L539.7,475.2 L540.1,475.3" fill="none" stroke="#0b0b8c" stroke-width="2.4" stroke-linejoin="round" stroke-linecap="round" />
<path d="M322.1,395.7 L322.5,395.5 L322.9,395.3 L323.3,395.1 L323.7,394.9 L324.1,394.6 L324.5,394.4 L324.9,394.2 L325.3,394.0 L325.7,393.8 L326.1,393.5 L326.5,393.3 L326.9,393.1 L327.3,392.9 L327.7,392.7 L328.1,392.4 L328.5,392.2 L328.9,392.0 L329.3,391.8 L329.7,391.6 L330.1,391.4 L330.5,391.3 L330.9,391.1 L331.3,390.9 L331.7,390.8 L332.1,390.6 L332.5,390.5 L332.9,390.4 L333.3,390.3 L333.7,390.2 L334.1,390.1 L334.5,390.0 L334.9,390.0 L335.3,389.9 L335.7,389.9 L336.1,389.9 L336.5,389.9 L336.9,389.9 L337.3,390.0 L337.7,390.1 L338.1,390.1 L338.5,390.2 L338.9,390.3 L339.3,390.5 L339.7,390.6 L340.1,390.7 L340.5,390.9 L340.9,391.1 L341.3,391.3 L341.7,391.5 L342.1,391.7 L342.5,391.9 L342.9,392.1 L343.3,392.3 L343.7,392.6 L344.1,392.8 L344.5,393.0 L344.9,393.3 L345.3,393.5 L345.7,393.8 L346.1,394.1 L346.5,394.3 L346.9,394.6 L347.3,394.8 L347.7,395.1 L348.1,395.4 L348.5,395.6 L348.9,395.9 L349.3,396.2 L349.7,396.4 L350.1,396.7 L350.5,396.9 L350.9,397.2 L351.3,397.4 L351.7,397.7 L352.1,397.9 L352.5,398.2 L352.9,398.4 L353.3,398.6 L353.7,398.9 L354.1,399.1 L354.5,399.3 L354.9,399.5 L355.3,399.7 L355.7,399.9 L356.1,400.2 L356.5,400.4 L356.9,400.6 L357.3,400.8 L357.7,401.0 L358.1,401.1 L358.5,401.3 L358.9,401.5 L359.3,401.7 L359.7,401.9 L360.1,402.0 L360.5,402.2 L360.9,402.4 L361.3,402.5 L361.7,402.6 L362.1,402.8 L362.5,402.9 L362.9,403.1 L363.3,403.2 L363.7,403.3 L364.1,403.5 L364.5,403.6 L364.9,403.7 L365.3,403.8 L365.7,403.9 L366.1,404.1 L366.5,404.2 L366.9,404.3 L367.3,404.4 L367.7,404.5 L368.1,404.6 L368.5,404.7 L368.9,404.8 L369.3,404.9 L369.7,405.0 L370.1,405.1 L370.5,405.2 L370.9,405.3 L371.3,405.4 L371.7,405.5 L372.1,405.6 L372.5,405.7 L372.9,405.8 L373.3,405.9 L373.7,405.9 L374.1,406.0 L374.5,406.1 L374.9,406.2 L375.3,406.3 L375.7,406.4 L376.1,406.5 L376.5,406.6 L376.9,406.6 L377.3,406.7 L377.7,406.8 L378.1,406.9 L378.5,407.0 L378.9,407.1 L379.3,407.2 L379.7,407.3 L380.1,407.3 L380.5,407.4 L380.9,407.5 L381.3,407.6 L381.7,407.7 L382.1,407.8 L382.5,407.9 L382.9,408.0 L383.3,408.2 L383.7,408.3 L384.1,408.4 L384.5,408.5 L384.9,408.6 L385.3,408.7 L385.7,408.8 L386.1,409.0 L386.5,409.1 L386.9,409.2 L387.3,409.3 L387.7,409.4 L388.1,409.6 L388.5,409.7 L388.9,409.8 L389.3,409.9 L389.7,410.1 L390.1,410.2 L390.5,410.3 L390.9,410.4 L391.3,410.6 L391.7,410.7 L392.1,410.8 L392.5,411.0 L392.9,411.1 L393.3,411.2 L393.7,411.4 L394.1,411.5 L394.5,411.6 L394.9,411.7 L395.3,411.9 L395.7,412.0 L396.1,412.1 L396.5,412.3 L396.9,412.4 L397.3,412.5 L397.7,412.6 L398.1,412.8 L398.5,412.9 L398.9,413.0 L399.3,413.1 L399.7,413.2 L400.1,413.3 L400.5,413.5 L400.9,413.6 L401.3,413.8 L401.7,413.9 L402.1,414.0 L402.5,414.2 L402.9,414.3 L403.3,414.4 L403.7,414.5 L404.1,414.7 L404.5,414.8 L404.9,414.9 L405.3,415.0 L405.7,415.2 L406.1,415.3 L406.5,415.4 L406.9,415.5 L407.3,415.6 L407.7,415.7 L408.1,415.8 L408.5,415.9 L408.9,416.0 L409.3,416.1 L409.7,416.2 L410.1,416.3 L410.5,416.4 L410.9,416.4 L411.3,416.5 L411.7,416.5 L412.1,416.6 L412.5,416.6 L412.9,416.7 L413.3,416.7 L413.7,416.7 L414.1,416.7 L414.5,416.7 L414.9,416.7 L415.3,416.7 L415.7,416.6 L416.1,416.6 L416.5,416.5 L416.9,416.5 L417.3,416.4 L417.7,416.3 L418.1,416.2 L418.5,416.1 L418.9,416.0 L419.3,415.9 L419.7,415.7 L420.1,415.6 L420.5,415.4 L420.9,415.2 L421.3,415.0 L421.7,414.8 L422.1,414.6 L422.5,414.4 L422.9,414.2 L423.3,413.9 L423.7,413.7 L424.1,413.4 L424.5,413.1 L424.9,412.8 L425.3,412.5 L425.7,412.2 L426.1,411.9 L426.5,411.6 L426.9,411.3 L427.3,410.9 L427.7,410.6 L428.1,410.3 L428.5,409.9 L428.9,409.6 L429.3,409.2 L429.7,408.9 L430.1,408.5 L430.5,408.2 L430.9,407.8 L431.3,407.5 L431.7,407.2 L432.1,406.8 L432.5,406.5 L432.9,406.2 L433.3,405.9 L433.7,405.6 L434.1,405.3 L434.5,405.0 L434.9,404.7 L435.3,404.5 L435.7,404.2 L436.1,404.0 L436.5,403.8 L436.9,403.6 L437.3,403.5 L437.7,403.3 L438.1,403.2 L438.5,403.1 L438.9,403.0 L439.3,403.0 L439.7,402.9 L440.1,402.9 L440.5,403.0 L440.9,403.0 L441.3,403.1 L441.7,403.1 L442.1,403.3 L442.5,403.4 L442.9,403.6 L443.3,403.8 L443.7,404.0 L444.1,404.2 L444.5,404.5 L444.9,404.8 L445.3,405.1 L445.7,405.5 L446.1,405.8 L446.5,406.2 L446.9,406.6 L447.3,407.1 L447.7,407.5 L448.1,408.0 L448.5,408.5 L448.9,409.0 L449.3,409.5 L449.7,410.0 L450.1,410.5 L450.5,411.0 L450.9,411.6 L451.3,412.2 L451.7,412.7 L452.1,413.3 L452.5,413.9 L452.9,414.4 L453.3,415.0 L453.7,415.6 L454.1,416.2 L454.5,416.8 L454.9,417.3 L455.3,417.9 L455.7,418.5 L456.1,419.1 L456.5,419.6 L456.9,420.2 L457.3,420.8 L457.7,421.3 L458.1,421.9 L458.5,422.4 L458.9,422.9 L459.3,423.5 L459.7,424.0 L460.1,424.5 L460.5,425.0 L460.9,425.4 L461.3,425.9 L461.7,426.4 L462.1,426.8 L462.5,427.3 L462.9,427.7 L463.3,428.1 L463.7,428.5 L464.1,428.9 L464.5,429.3 L464.9,429.7 L465.3,430.1 L465.7,430.4 L466.1,430.7 L466.5,431.1 L466.9,431.4 L467.3,431.7 L467.7,432.0 L468.1,432.3 L468.5,432.5 L468.9,432.8 L469.3,433.0 L469.7,433.3 L470.1,433.5 L470.5,433.7 L470.9,433.9 L471.3,434.1 L471.7,434.3 L472.1,434.5 L472.5,434.7 L472.9,434.9 L473.3,435.1 L473.7,435.3 L474.1,435.4 L474.5,435.6 L474.9,435.8 L475.3,435.9 L475.7,436.1 L476.1,436.2 L476.5,436.4 L476.9,436.5 L477.3,436.7 L477.7,436.9 L478.1,437.0 L478.5,437.2 L478.9,437.3 L479.3,437.5 L479.7,437.7 L480.1,437.8 L480.5,438.1 L480.9,438.5 L481.3,438.8 L481.7,439.1 L482.1,439.4 L482.5,439.8 L482.9,440.1 L483.3,440.5 L483.7,440.9 L484.1,441.2 L484.5,441.6 L484.9,442.0 L485.3,442.4 L485.7,442.7 L486.1,443.1 L486.5,443.5 L486.9,443.9 L487.3,444.3 L487.7,444.7 L488.1,445.1 L488.5,445.5 L488.9,445.9 L489.3,446.4 L489.7,446.8 L490.1,447.3 L490.5,447.7 L490.9,448.2 L491.3,448.6 L491.7,448.9 L492.1,449.3 L492.5,449.7 L492.9,450.1 L493.3,450.5 L493.7,450.9 L494.1,451.4 L494.5,451.8 L494.9,452.2 L495.3,452.7 L495.7,453.1 L496.1,453.5 L496.5,454.0 L496.9,454.4 L497.3,454.8 L497.7,455.3 L498.1,455.7 L498.5,456.1 L498.9,456.5 L499.3,457.0 L499.7,457.4 L500.1,457.9 L500.5,458.3 L500.9,458.8 L501.3,459.3 L501.7,459.7 L502.1,460.2 L502.5,460.7 L502.9,461.1 L503.3,461.6 L503.7,462.1 L504.1,462.5 L504.5,462.9 L504.9,463.4 L505.3,463.8 L505.7,464.2 L506.1,464.6 L506.5,465.0 L506.9,465.3 L507.3,465.7 L507.7,466.0 L508.1,466.3 L508.5,466.6 L508.9,466.8 L509.3,467.1 L509.7,467.3 L510.1,467.5 L510.5,467.7 L510.9,467.9 L511.3,468.2 L511.7,468.4 L512.1,468.5 L512.5,468.7 L512.9,468.9 L513.3,469.1 L513.7,469.3 L514.1,469.5 L514.5,469.6 L514.9,469.8 L515.3,469.9 L515.7,470.1 L516.1,470.3 L516.5,470.4 L516.9,470.6 L517.3,470.7 L517.7,470.8 L518.1,471.0 L518.5,471.1 L518.9,471.3 L519.3,471.4 L519.7,471.5 L520.1,471.7 L520.5,471.8 L520.9,471.9 L521.3,472.1 L521.7,472.2 L522.1,472.3 L522.5,472.5 L522.9,472.6 L523.3,472.7 L523.7,472.8 L524.1,473.0 L524.5,473.1 L524.9,473.2 L525.3,473.4 L525.7,473.5 L526.1,473.6 L526.5,473.8 L526.9,473.9 L527.3,474.0 L527.7,474.1 L528.1,474.3 L528.5,474.4 L528.9,474.5 L529.3,474.6 L529.7,474.7 L530.1,474.9 L530.5,475.0 L530.9,475.1 L531.3,475.2 L531.7,475.3 L532.1,475.4 L532.5,475.5 L532.9,475.7 L533.3,475.8 L533.7,475.9 L534.1,476.0 L534.5,476.1 L534.9,476.2 L535.3,476.3 L535.7,476.4 L536.1,476.5 L536.5,476.6 L536.9,476.7 L537.3,476.8 L537.7,476.9 L538.1,477.0 L538.5,477.1 L538.9,477.2 L539.3,477.3 L539.7,477.4 L540.1,477.4" fill="none" stroke="#8a2fd6" stroke-width="2.3" stroke-linejoin="round" stroke-linecap="round" />
<path d="M322.1,395.1 L322.5,394.8 L322.9,394.5 L323.3,394.2 L323.7,393.9 L324.1,393.6 L324.5,393.3 L324.9,393.1 L325.3,392.8 L325.7,392.5 L326.1,392.2 L326.5,391.9 L326.9,391.7 L327.3,391.4 L327.7,391.2 L328.1,390.9 L328.5,390.7 L328.9,390.5 L329.3,390.3 L329.7,390.1 L330.1,389.9 L330.5,389.7 L330.9,389.5 L331.3,389.4 L331.7,389.2 L332.1,389.1 L332.5,389.0 L332.9,388.8 L333.3,388.7 L333.7,388.6 L334.1,388.6 L334.5,388.5 L334.9,388.5 L335.3,388.4 L335.7,388.4 L336.1,388.4 L336.5,388.4 L336.9,388.4 L337.3,388.5 L337.7,388.5 L338.1,388.6 L338.5,388.7 L338.9,388.8 L339.3,388.9 L339.7,389.1 L340.1,389.2 L340.5,389.3 L340.9,389.5 L341.3,389.7 L341.7,389.8 L342.1,390.0 L342.5,390.2 L342.9,390.4 L343.3,390.6 L343.7,390.8 L344.1,391.0 L344.5,391.2 L344.9,391.4 L345.3,391.7 L345.7,391.9 L346.1,392.1 L346.5,392.3 L346.9,392.5 L347.3,392.7 L347.7,392.9 L348.1,393.1 L348.5,393.3 L348.9,393.5 L349.3,393.7 L349.7,393.9 L350.1,394.1 L350.5,394.3 L350.9,394.5 L351.3,394.7 L351.7,394.9 L352.1,395.1 L352.5,395.3 L352.9,395.5 L353.3,395.6 L353.7,395.8 L354.1,396.0 L354.5,396.1 L354.9,396.3 L355.3,396.4 L355.7,396.6 L356.1,396.7 L356.5,396.8 L356.9,397.0 L357.3,397.1 L357.7,397.2 L358.1,397.3 L358.5,397.4 L358.9,397.5 L359.3,397.6 L359.7,397.6 L360.1,397.7 L360.5,397.7 L360.9,397.8 L361.3,397.8 L361.7,397.8 L362.1,397.8 L362.5,397.8 L362.9,397.8 L363.3,397.7 L363.7,397.7 L364.1,397.7 L364.5,397.6 L364.9,397.5 L365.3,397.5 L365.7,397.4 L366.1,397.3 L366.5,397.2 L366.9,397.1 L367.3,397.1 L367.7,397.0 L368.1,396.9 L368.5,396.8 L368.9,396.7 L369.3,396.6 L369.7,396.6 L370.1,396.5 L370.5,396.4 L370.9,396.3 L371.3,396.3 L371.7,396.2 L372.1,396.2 L372.5,396.1 L372.9,396.0 L373.3,395.9 L373.7,395.8 L374.1,395.7 L374.5,395.6 L374.9,395.4 L375.3,395.2 L375.7,395.1 L376.1,394.8 L376.5,394.6 L376.9,394.3 L377.3,394.1 L377.7,393.7 L378.1,393.4 L378.5,393.0 L378.9,392.7 L379.3,392.2 L379.7,391.8 L380.1,391.3 L380.5,390.9 L380.9,390.3 L381.3,389.8 L381.7,389.2 L382.1,388.6 L382.5,388.0 L382.9,387.4 L383.3,386.8 L383.7,386.2 L384.1,385.6 L384.5,385.0 L384.9,384.4 L385.3,383.8 L385.7,383.3 L386.1,382.8 L386.5,382.3 L386.9,381.8 L387.3,381.4 L387.7,381.0 L388.1,380.6 L388.5,380.3 L388.9,380.0 L389.3,379.7 L389.7,379.5 L390.1,379.2 L390.5,379.0 L390.9,378.8 L391.3,378.6 L391.7,378.4 L392.1,378.2 L392.5,377.9 L392.9,377.7 L393.3,377.5 L393.7,377.3 L394.1,377.1 L394.5,376.9 L394.9,376.7 L395.3,376.4 L395.7,376.2 L396.1,376.0 L396.5,375.8 L396.9,375.6 L397.3,375.3 L397.7,375.1 L398.1,374.9 L398.5,374.7 L398.9,374.5 L399.3,374.3 L399.7,374.1 L400.1,374.0 L400.5,373.9 L400.9,373.8 L401.3,373.7 L401.7,373.6 L402.1,373.6 L402.5,373.6 L402.9,373.7 L403.3,373.8 L403.7,373.9 L404.1,374.1 L404.5,374.3 L404.9,374.6 L405.3,374.9 L405.7,375.4 L406.1,375.8 L406.5,376.4 L406.9,377.0 L407.3,377.7 L407.7,378.5 L408.1,379.3 L408.5,380.1 L408.9,381.0 L409.3,382.0 L409.7,382.9 L410.1,383.9 L410.5,384.8 L410.9,385.8 L411.3,386.8 L411.7,387.7 L412.1,388.6 L412.5,389.5 L412.9,390.4 L413.3,391.2 L413.7,392.1 L414.1,392.9 L414.5,393.6 L414.9,394.4 L415.3,395.1 L415.7,395.8 L416.1,396.5 L416.5,397.1 L416.9,397.7 L417.3,398.3 L417.7,398.9 L418.1,399.5 L418.5,400.0 L418.9,400.5 L419.3,401.0 L419.7,401.5 L420.1,402.0 L420.5,402.4 L420.9,402.8 L421.3,403.2 L421.7,403.6 L422.1,403.9 L422.5,404.2 L422.9,404.5 L423.3,404.8 L423.7,405.0 L424.1,405.2 L424.5,405.3 L424.9,405.4 L425.3,405.5 L425.7,405.5 L426.1,405.5 L426.5,405.5 L426.9,405.5 L427.3,405.4 L427.7,405.3 L428.1,405.2 L428.5,405.0 L428.9,404.8 L429.3,404.6 L429.7,404.4 L430.1,404.1 L430.5,403.9 L430.9,403.6 L431.3,403.3 L431.7,403.0 L432.1,402.6 L432.5,402.3 L432.9,401.9 L433.3,401.6 L433.7,401.2 L434.1,400.9 L434.5,400.5 L434.9,400.1 L435.3,399.7 L435.7,399.4 L436.1,399.0 L436.5,398.7 L436.9,398.3 L437.3,398.0 L437.7,397.7 L438.1,397.4 L438.5,397.1 L438.9,396.9 L439.3,396.7 L439.7,396.6 L440.1,396.4 L440.5,396.4 L440.9,396.4 L441.3,396.5 L441.7,396.6 L442.1,396.7 L442.5,397.0 L442.9,397.2 L443.3,397.5 L443.7,397.9 L444.1,398.3 L444.5,398.7 L444.9,399.1 L445.3,399.6 L445.7,400.1 L446.1,400.6 L446.5,401.2 L446.9,401.7 L447.3,402.3 L447.7,402.9 L448.1,403.4 L448.5,404.0 L448.9,404.6 L449.3,405.2 L449.7,405.8 L450.1,406.3 L450.5,406.9 L450.9,407.5 L451.3,408.0 L451.7,408.5 L452.1,409.0 L452.5,409.5 L452.9,410.0 L453.3,410.4 L453.7,410.8 L454.1,411.2 L454.5,411.6 L454.9,412.0 L455.3,412.3 L455.7,412.7 L456.1,413.0 L456.5,413.3 L456.9,413.6 L457.3,413.9 L457.7,414.2 L458.1,414.4 L458.5,414.7 L458.9,414.9 L459.3,415.2 L459.7,415.4 L460.1,415.7 L460.5,415.9 L460.9,416.1 L461.3,416.3 L461.7,416.5 L462.1,416.7 L462.5,416.9 L462.9,417.0 L463.3,417.2 L463.7,417.3 L464.1,417.4 L464.5,417.5 L464.9,417.6 L465.3,417.6 L465.7,417.6 L466.1,417.6 L466.5,417.6 L466.9,417.5 L467.3,417.5 L467.7,417.4 L468.1,417.2 L468.5,417.1 L468.9,416.9 L469.3,416.7 L469.7,416.4 L470.1,416.2 L470.5,415.9 L470.9,415.6 L471.3,415.2 L471.7,414.9 L472.1,414.5 L472.5,414.1 L472.9,413.6 L473.3,413.1 L473.7,412.5 L474.1,411.9 L474.5,411.2 L474.9,410.5 L475.3,409.7 L475.7,408.8 L476.1,407.8 L476.5,406.8 L476.9,405.6 L477.3,404.4 L477.7,403.2 L478.1,401.8 L478.5,400.5 L478.9,399.0 L479.3,397.6 L479.7,396.1 L480.1,394.6 L480.5,393.1 L480.9,391.5 L481.3,390.0 L481.7,388.5 L482.1,387.0 L482.5,385.5 L482.9,384.0 L483.3,382.6 L483.7,381.2 L484.1,379.8 L484.5,378.5 L484.9,377.2 L485.3,376.0 L485.7,374.9 L486.1,373.8 L486.5,372.8 L486.9,372.0 L487.3,371.2 L487.7,370.6 L488.1,370.2 L488.5,369.8 L488.9,369.6 L489.3,369.5 L489.7,369.4 L490.1,369.4 L490.5,369.4 L490.9,369.5 L491.3,369.5 L491.7,369.5 L492.1,369.4 L492.5,369.3 L492.9,369.1 L493.3,368.8 L493.7,368.4 L494.1,367.9 L494.5,367.4 L494.9,366.6 L495.3,365.8 L495.7,364.8 L496.1,363.7 L496.5,362.5 L496.9,361.1 L497.3,359.6 L497.7,358.1 L498.1,356.7 L498.5,355.3 L498.9,354.2 L499.3,353.2 L499.7,352.6 L500.1,352.3 L500.5,352.4 L500.9,352.7 L501.3,353.1 L501.7,353.6 L502.1,354.1 L502.5,354.5 L502.9,354.7 L503.3,355.1 L503.7,355.7 L504.1,357.0 L504.5,359.0 L504.9,361.9 L505.3,365.5 L505.7,369.6 L506.1,374.1 L506.5,378.9 L506.9,383.9 L507.3,388.8 L507.7,393.6 L508.1,398.1 L508.5,402.4 L508.9,406.4 L509.3,410.0 L509.7,413.2 L510.1,416.0 L510.5,418.4 L510.9,420.6 L511.3,422.5 L511.7,424.1 L512.1,425.6 L512.5,427.0 L512.9,428.3 L513.3,429.4 L513.7,430.5 L514.1,431.5 L514.5,432.4 L514.9,433.1 L515.3,433.8 L515.7,434.3 L516.1,434.7 L516.5,435.0 L516.9,435.2 L517.3,435.2 L517.7,435.1 L518.1,434.9 L518.5,434.6 L518.9,434.2 L519.3,433.8 L519.7,433.2 L520.1,432.6 L520.5,432.0 L520.9,431.5 L521.3,431.0 L521.7,430.6 L522.1,430.5 L522.5,430.6 L522.9,430.9 L523.3,431.5 L523.7,432.4 L524.1,433.4 L524.5,434.6 L524.9,436.0 L525.3,437.4 L525.7,438.9 L526.1,440.4 L526.5,441.8 L526.9,443.3 L527.3,444.7 L527.7,446.1 L528.1,447.5 L528.5,448.8 L528.9,450.0 L529.3,451.3 L529.7,452.4 L530.1,453.5 L530.5,454.6 L530.9,455.5 L531.3,456.5 L531.7,457.3 L532.1,458.2 L532.5,458.9 L532.9,459.7 L533.3,460.4 L533.7,461.0 L534.1,461.7 L534.5,462.3 L534.9,462.9 L535.3,463.4 L535.7,464.0 L536.1,464.5 L536.5,465.0 L536.9,465.4 L537.3,465.9 L537.7,466.4 L538.1,466.8 L538.5,467.2 L538.9,467.6 L539.3,468.1 L539.7,468.5 L540.1,468.8" fill="none" stroke="#f23c3c" stroke-width="2.35" stroke-linejoin="round" stroke-linecap="round" />
<line x1="363.70" y1="491.3" x2="363.70" y2="484.8" stroke="#000" stroke-width="2.2"/>
<line x1="435.80" y1="491.3" x2="435.80" y2="484.8" stroke="#000" stroke-width="2.2"/>
<line x1="507.40" y1="491.3" x2="507.40" y2="484.8" stroke="#000" stroke-width="2.2"/>
<rect x="321.1" y="295.5" width="220.30" height="195.80" fill="none" stroke="#000" stroke-width="2.5"/>
<text x="363.7" y="510.8" font-size="11.9" fill="#000" text-anchor="middle" textLength="20.3" lengthAdjust="spacingAndGlyphs" stroke="#000" stroke-width="0.3">730</text>
<text x="435.8" y="510.8" font-size="11.9" fill="#000" text-anchor="middle" textLength="20.3" lengthAdjust="spacingAndGlyphs" stroke="#000" stroke-width="0.3">720</text>
<text x="507.4" y="510.8" font-size="11.9" fill="#000" text-anchor="middle" textLength="20.3" lengthAdjust="spacingAndGlyphs" stroke="#000" stroke-width="0.3">710</text>
<text x="501.3" y="316.4" font-size="12.5" fill="#000" text-anchor="start" textLength="33" lengthAdjust="spacingAndGlyphs" stroke="#000" stroke-width="0.2">Fe 2p</text>
<text x="322.0" y="344.3" font-size="12.8" fill="#0b0b8c" stroke="#0b0b8c" stroke-width="0.3" textLength="83.5" lengthAdjust="spacingAndGlyphs">Fe<tspan font-size="9.8" dy="-6.3">3+</tspan><tspan dy="6.3">-N/O 2p</tspan><tspan font-size="9.8" dy="3.2">1/2</tspan></text>
<text x="390.8" y="318.0" font-size="12.8" fill="#4a7d1f" stroke="#4a7d1f" stroke-width="0.3" textLength="83.5" lengthAdjust="spacingAndGlyphs">Fe<tspan font-size="9.8" dy="-6.3">2+</tspan><tspan dy="6.3">-N/O 2p</tspan><tspan font-size="9.8" dy="3.2">1/2</tspan></text>
<text x="456.8" y="336.0" font-size="12.8" fill="#4a7d1f" stroke="#4a7d1f" stroke-width="0.3" textLength="83.5" lengthAdjust="spacingAndGlyphs">Fe<tspan font-size="9.8" dy="-6.3">2+</tspan><tspan dy="6.3">-N/O 2p</tspan><tspan font-size="9.8" dy="3.2">3/2</tspan></text>
<text x="410.3" y="359.8" font-size="12.8" fill="#0b0b8c" stroke="#0b0b8c" stroke-width="0.3" textLength="83.5" lengthAdjust="spacingAndGlyphs">Fe<tspan font-size="9.8" dy="-6.3">3+</tspan><tspan dy="6.3">-N/O 2p</tspan><tspan font-size="9.8" dy="3.2">3/2</tspan></text>
<text x="507.3" y="375.2" font-size="12.3" fill="#b1602c" stroke="#b1602c" stroke-width="0.15">Fe-N<tspan font-size="9.5" dy="3">X</tspan></text>
<line x1="388.3" y1="394.4" x2="372.18" y2="359.75" stroke="#0b0b8c" stroke-width="1.1"/>
<polygon points="368.80,352.50 374.90,358.49 369.46,361.02" fill="#0b0b8c"/>
<line x1="402.5" y1="387.5" x2="413.23" y2="334.04" stroke="#4a7d1f" stroke-width="1.1"/>
<polygon points="414.80,326.20 416.17,334.63 410.28,333.45" fill="#4a7d1f"/>
<line x1="485.7" y1="393.6" x2="458.71" y2="367.10" stroke="#0b0b8c" stroke-width="1.1"/>
<polygon points="453.00,361.50 460.81,364.96 456.61,369.25" fill="#0b0b8c"/>
<line x1="500.5" y1="372.3" x2="505.58" y2="349.31" stroke="#4a7d1f" stroke-width="1.1"/>
<polygon points="507.30,341.50 508.50,349.96 502.65,348.67" fill="#4a7d1f"/>
<line x1="523.5" y1="444" x2="523.76" y2="383.80" stroke="#b1602c" stroke-width="1.1"/>
<polygon points="523.80,375.80 526.76,383.81 520.76,383.79" fill="#b1602c"/>
<text x="361.3" y="457.8" font-size="13" fill="#8a2fd6" text-anchor="start" textLength="82" lengthAdjust="spacingAndGlyphs" stroke="#8a2fd6" stroke-width="0.2">Satellite peak</text>
<line x1="335.8" y1="390.2" x2="357.93" y2="436.19" stroke="#8a2fd6" stroke-width="1.1"/>
<polygon points="361.40,443.40 355.23,437.49 360.63,434.89" fill="#8a2fd6"/>
<line x1="441.8" y1="403.5" x2="425.04" y2="437.52" stroke="#8a2fd6" stroke-width="1.1"/>
<polygon points="421.50,444.70 422.34,436.20 427.73,438.85" fill="#8a2fd6"/>
</svg></body></html>
